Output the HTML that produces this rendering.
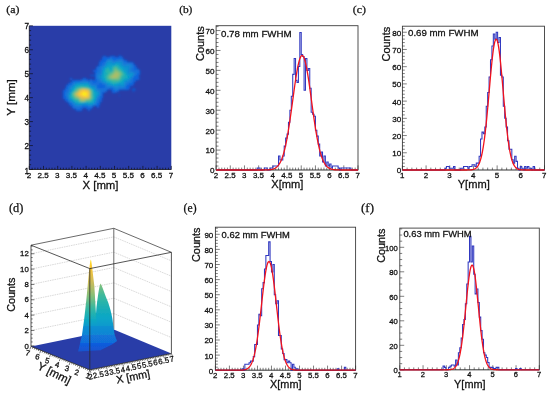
<!DOCTYPE html>
<html lang="en"><head><meta charset="utf-8"><title>Figure</title>
<style>html,body{margin:0;padding:0;background:#fff;}svg{display:block;}</style>
</head><body>
<svg width="550" height="394" viewBox="0 0 550 394" font-family='"Liberation Sans", sans-serif'>
<rect width="550" height="394" fill="#fff"/>
<defs>
<filter id="bl" x="-5%" y="-5%" width="110%" height="110%"><feGaussianBlur stdDeviation="0.8"/></filter>
<clipPath id="ca"><rect x="29.3" y="25.8" width="142" height="143.7"/></clipPath>
</defs>
<text x="6.2" y="13" font-size="10.9" font-family='"Liberation Serif", serif' fill="#111" stroke="#111" stroke-width="0.25" textLength="13.2" lengthAdjust="spacingAndGlyphs">(a)</text>
<text x="179.2" y="13" font-size="10.9" font-family='"Liberation Serif", serif' fill="#111" stroke="#111" stroke-width="0.25" textLength="13.2" lengthAdjust="spacingAndGlyphs">(b)</text>
<text x="352.8" y="13" font-size="10.9" font-family='"Liberation Serif", serif' fill="#111" stroke="#111" stroke-width="0.25" textLength="13.2" lengthAdjust="spacingAndGlyphs">(c)</text>
<text x="9" y="212.4" font-size="12.4" font-family='"Liberation Serif", serif' fill="#111" stroke="#111" stroke-width="0.25" textLength="14.4" lengthAdjust="spacingAndGlyphs">(d)</text>
<text x="183.6" y="212.4" font-size="12.4" font-family='"Liberation Serif", serif' fill="#111" stroke="#111" stroke-width="0.25" textLength="13" lengthAdjust="spacingAndGlyphs">(e)</text>
<text x="361" y="212.4" font-size="12.4" font-family='"Liberation Serif", serif' fill="#111" stroke="#111" stroke-width="0.25" textLength="13" lengthAdjust="spacingAndGlyphs">(f)</text>
<g>
<rect x="29.3" y="25.8" width="142" height="143.7" fill="#293da8"/>
<g filter="url(#bl)" clip-path="url(#ca)">
<path d="M63.38 97.65h1.42v1.44h-1.42zM63.38 96.21h1.42v1.44h-1.42zM63.38 94.78h1.42v1.44h-1.42zM63.38 93.34h1.42v1.44h-1.42zM63.38 91.9h1.42v1.44h-1.42zM63.38 90.47h1.42v1.44h-1.42zM64.8 87.59h1.42v1.44h-1.42zM66.22 100.52h1.42v1.44h-1.42zM66.22 84.72h1.42v1.44h-1.42zM67.64 83.28h1.42v1.44h-1.42zM69.06 103.4h1.42v1.44h-1.42zM69.06 83.28h1.42v1.44h-1.42zM70.48 104.84h1.42v1.44h-1.42zM70.48 81.84h1.42v1.44h-1.42zM70.48 78.97h1.42v1.44h-1.42zM70.48 77.53h1.42v1.44h-1.42zM71.9 106.27h1.42v1.44h-1.42zM71.9 80.41h1.42v1.44h-1.42zM73.32 107.71h1.42v1.44h-1.42zM73.32 80.41h1.42v1.44h-1.42zM76.16 109.15h1.42v1.44h-1.42zM79 109.15h1.42v1.44h-1.42zM80.42 109.15h1.42v1.44h-1.42zM81.84 107.71h1.42v1.44h-1.42zM83.26 77.53h1.42v1.44h-1.42zM84.68 78.97h1.42v1.44h-1.42zM84.68 77.53h1.42v1.44h-1.42zM86.1 107.71h1.42v1.44h-1.42zM87.52 109.15h1.42v1.44h-1.42zM88.94 109.15h1.42v1.44h-1.42zM90.36 107.71h1.42v1.44h-1.42zM90.36 78.97h1.42v1.44h-1.42zM90.36 74.66h1.42v1.44h-1.42zM91.78 106.27h1.42v1.44h-1.42zM91.78 74.66h1.42v1.44h-1.42zM93.2 80.41h1.42v1.44h-1.42zM93.2 74.66h1.42v1.44h-1.42zM94.62 80.41h1.42v1.44h-1.42zM94.62 78.97h1.42v1.44h-1.42zM94.62 77.53h1.42v1.44h-1.42zM94.62 76.1h1.42v1.44h-1.42zM94.62 74.66h1.42v1.44h-1.42zM94.62 73.22h1.42v1.44h-1.42zM94.62 71.78h1.42v1.44h-1.42zM94.62 70.35h1.42v1.44h-1.42zM96.04 68.91h1.42v1.44h-1.42zM96.04 67.47h1.42v1.44h-1.42zM97.46 66.04h1.42v1.44h-1.42zM98.88 103.4h1.42v1.44h-1.42zM98.88 101.96h1.42v1.44h-1.42zM98.88 86.15h1.42v1.44h-1.42zM98.88 84.72h1.42v1.44h-1.42zM98.88 64.6h1.42v1.44h-1.42zM98.88 63.16h1.42v1.44h-1.42zM98.88 61.73h1.42v1.44h-1.42zM100.3 100.52h1.42v1.44h-1.42zM100.3 99.09h1.42v1.44h-1.42zM100.3 97.65h1.42v1.44h-1.42zM100.3 86.15h1.42v1.44h-1.42zM100.3 84.72h1.42v1.44h-1.42zM100.3 61.73h1.42v1.44h-1.42zM101.72 96.21h1.42v1.44h-1.42zM101.72 94.78h1.42v1.44h-1.42zM101.72 93.34h1.42v1.44h-1.42zM101.72 91.9h1.42v1.44h-1.42zM101.72 86.15h1.42v1.44h-1.42zM101.72 84.72h1.42v1.44h-1.42zM101.72 60.29h1.42v1.44h-1.42zM101.72 57.41h1.42v1.44h-1.42zM103.14 91.9h1.42v1.44h-1.42zM103.14 60.29h1.42v1.44h-1.42zM103.14 58.85h1.42v1.44h-1.42zM103.14 57.41h1.42v1.44h-1.42zM103.14 55.98h1.42v1.44h-1.42zM104.56 58.85h1.42v1.44h-1.42zM104.56 57.41h1.42v1.44h-1.42zM104.56 55.98h1.42v1.44h-1.42zM105.98 57.41h1.42v1.44h-1.42zM107.4 89.03h1.42v1.44h-1.42zM107.4 57.41h1.42v1.44h-1.42zM110.24 55.98h1.42v1.44h-1.42zM111.66 91.9h1.42v1.44h-1.42zM111.66 90.47h1.42v1.44h-1.42zM111.66 89.03h1.42v1.44h-1.42zM111.66 55.98h1.42v1.44h-1.42zM113.08 91.9h1.42v1.44h-1.42zM113.08 57.41h1.42v1.44h-1.42zM113.08 55.98h1.42v1.44h-1.42zM114.5 91.9h1.42v1.44h-1.42zM114.5 57.41h1.42v1.44h-1.42zM115.92 57.41h1.42v1.44h-1.42zM117.34 57.41h1.42v1.44h-1.42zM118.76 55.98h1.42v1.44h-1.42zM120.18 55.98h1.42v1.44h-1.42zM121.6 57.41h1.42v1.44h-1.42zM123.02 58.85h1.42v1.44h-1.42zM125.86 60.29h1.42v1.44h-1.42zM127.28 89.03h1.42v1.44h-1.42zM127.28 86.15h1.42v1.44h-1.42zM127.28 84.72h1.42v1.44h-1.42zM128.7 87.59h1.42v1.44h-1.42zM128.7 84.72h1.42v1.44h-1.42zM130.12 84.72h1.42v1.44h-1.42zM130.12 61.73h1.42v1.44h-1.42zM131.54 83.28h1.42v1.44h-1.42zM131.54 61.73h1.42v1.44h-1.42zM132.96 90.47h1.42v1.44h-1.42zM132.96 89.03h1.42v1.44h-1.42zM132.96 87.59h1.42v1.44h-1.42zM132.96 83.28h1.42v1.44h-1.42zM132.96 81.84h1.42v1.44h-1.42zM134.38 89.03h1.42v1.44h-1.42zM134.38 80.41h1.42v1.44h-1.42zM134.38 78.97h1.42v1.44h-1.42zM134.38 77.53h1.42v1.44h-1.42zM134.38 66.04h1.42v1.44h-1.42zM134.38 64.6h1.42v1.44h-1.42zM135.8 78.97h1.42v1.44h-1.42zM135.8 76.1h1.42v1.44h-1.42zM135.8 67.47h1.42v1.44h-1.42zM137.22 78.97h1.42v1.44h-1.42zM137.22 76.1h1.42v1.44h-1.42zM137.22 74.66h1.42v1.44h-1.42zM138.64 77.53h1.42v1.44h-1.42zM138.64 73.22h1.42v1.44h-1.42zM138.64 70.35h1.42v1.44h-1.42z" fill="#1062dc" shape-rendering="crispEdges"/>
<path d="M64.8 99.09h1.42v1.44h-1.42zM86.1 78.97h1.42v1.44h-1.42zM93.2 70.35h1.42v1.44h-1.42zM97.46 106.27h1.42v1.44h-1.42zM100.3 60.29h1.42v1.44h-1.42zM101.72 58.85h1.42v1.44h-1.42zM110.24 89.03h1.42v1.44h-1.42zM118.76 94.78h1.42v1.44h-1.42zM118.76 54.54h1.42v1.44h-1.42zM128.7 86.15h1.42v1.44h-1.42zM131.54 89.03h1.42v1.44h-1.42zM131.54 84.72h1.42v1.44h-1.42z" fill="#0f5cdd" shape-rendering="crispEdges"/>
<path d="M64.8 97.65h1.42v1.44h-1.42zM64.8 96.21h1.42v1.44h-1.42zM64.8 90.47h1.42v1.44h-1.42zM64.8 89.03h1.42v1.44h-1.42zM66.22 99.09h1.42v1.44h-1.42zM66.22 87.59h1.42v1.44h-1.42zM66.22 86.15h1.42v1.44h-1.42zM67.64 101.96h1.42v1.44h-1.42zM67.64 84.72h1.42v1.44h-1.42zM70.48 103.4h1.42v1.44h-1.42zM70.48 83.28h1.42v1.44h-1.42zM71.9 104.84h1.42v1.44h-1.42zM71.9 81.84h1.42v1.44h-1.42zM74.74 107.71h1.42v1.44h-1.42zM74.74 80.41h1.42v1.44h-1.42zM76.16 80.41h1.42v1.44h-1.42zM77.58 109.15h1.42v1.44h-1.42zM77.58 80.41h1.42v1.44h-1.42zM79 80.41h1.42v1.44h-1.42zM80.42 107.71h1.42v1.44h-1.42zM81.84 106.27h1.42v1.44h-1.42zM81.84 78.97h1.42v1.44h-1.42zM83.26 106.27h1.42v1.44h-1.42zM83.26 78.97h1.42v1.44h-1.42zM84.68 106.27h1.42v1.44h-1.42zM86.1 106.27h1.42v1.44h-1.42zM87.52 107.71h1.42v1.44h-1.42zM87.52 80.41h1.42v1.44h-1.42zM88.94 107.71h1.42v1.44h-1.42zM88.94 80.41h1.42v1.44h-1.42zM91.78 80.41h1.42v1.44h-1.42zM93.2 81.84h1.42v1.44h-1.42zM94.62 104.84h1.42v1.44h-1.42zM94.62 81.84h1.42v1.44h-1.42zM96.04 104.84h1.42v1.44h-1.42zM96.04 80.41h1.42v1.44h-1.42zM96.04 78.97h1.42v1.44h-1.42zM96.04 71.78h1.42v1.44h-1.42zM96.04 70.35h1.42v1.44h-1.42zM97.46 104.84h1.42v1.44h-1.42zM97.46 103.4h1.42v1.44h-1.42zM97.46 86.15h1.42v1.44h-1.42zM97.46 84.72h1.42v1.44h-1.42zM98.88 100.52h1.42v1.44h-1.42zM98.88 99.09h1.42v1.44h-1.42zM98.88 83.28h1.42v1.44h-1.42zM98.88 66.04h1.42v1.44h-1.42zM100.3 96.21h1.42v1.44h-1.42zM100.3 83.28h1.42v1.44h-1.42zM100.3 64.6h1.42v1.44h-1.42zM100.3 63.16h1.42v1.44h-1.42zM101.72 61.73h1.42v1.44h-1.42zM103.14 86.15h1.42v1.44h-1.42zM103.14 84.72h1.42v1.44h-1.42zM104.56 60.29h1.42v1.44h-1.42zM105.98 90.47h1.42v1.44h-1.42zM105.98 58.85h1.42v1.44h-1.42zM108.82 87.59h1.42v1.44h-1.42zM108.82 57.41h1.42v1.44h-1.42zM110.24 87.59h1.42v1.44h-1.42zM111.66 87.59h1.42v1.44h-1.42zM111.66 57.41h1.42v1.44h-1.42zM113.08 90.47h1.42v1.44h-1.42zM113.08 58.85h1.42v1.44h-1.42zM114.5 58.85h1.42v1.44h-1.42zM117.34 90.47h1.42v1.44h-1.42zM118.76 89.03h1.42v1.44h-1.42zM118.76 57.41h1.42v1.44h-1.42zM120.18 89.03h1.42v1.44h-1.42zM120.18 57.41h1.42v1.44h-1.42zM121.6 89.03h1.42v1.44h-1.42zM123.02 89.03h1.42v1.44h-1.42zM124.44 89.03h1.42v1.44h-1.42zM124.44 60.29h1.42v1.44h-1.42zM125.86 89.03h1.42v1.44h-1.42zM125.86 87.59h1.42v1.44h-1.42zM125.86 86.15h1.42v1.44h-1.42zM127.28 87.59h1.42v1.44h-1.42zM127.28 61.73h1.42v1.44h-1.42zM128.7 83.28h1.42v1.44h-1.42zM128.7 61.73h1.42v1.44h-1.42zM130.12 83.28h1.42v1.44h-1.42zM131.54 81.84h1.42v1.44h-1.42zM132.96 80.41h1.42v1.44h-1.42zM132.96 78.97h1.42v1.44h-1.42zM132.96 77.53h1.42v1.44h-1.42zM132.96 68.91h1.42v1.44h-1.42zM132.96 63.16h1.42v1.44h-1.42zM134.38 76.1h1.42v1.44h-1.42zM134.38 68.91h1.42v1.44h-1.42zM134.38 67.47h1.42v1.44h-1.42zM135.8 77.53h1.42v1.44h-1.42zM135.8 74.66h1.42v1.44h-1.42zM137.22 77.53h1.42v1.44h-1.42zM137.22 73.22h1.42v1.44h-1.42zM137.22 68.91h1.42v1.44h-1.42zM138.64 71.78h1.42v1.44h-1.42z" fill="#1168db" shape-rendering="crispEdges"/>
<path d="M64.8 94.78h1.42v1.44h-1.42zM64.8 93.34h1.42v1.44h-1.42zM64.8 91.9h1.42v1.44h-1.42zM66.22 97.65h1.42v1.44h-1.42zM66.22 90.47h1.42v1.44h-1.42zM66.22 89.03h1.42v1.44h-1.42zM67.64 100.52h1.42v1.44h-1.42zM67.64 86.15h1.42v1.44h-1.42zM69.06 101.96h1.42v1.44h-1.42zM69.06 84.72h1.42v1.44h-1.42zM70.48 84.72h1.42v1.44h-1.42zM71.9 103.4h1.42v1.44h-1.42zM73.32 106.27h1.42v1.44h-1.42zM76.16 107.71h1.42v1.44h-1.42zM77.58 107.71h1.42v1.44h-1.42zM79 107.71h1.42v1.44h-1.42zM80.42 106.27h1.42v1.44h-1.42zM80.42 80.41h1.42v1.44h-1.42zM86.1 80.41h1.42v1.44h-1.42zM87.52 106.27h1.42v1.44h-1.42zM88.94 106.27h1.42v1.44h-1.42zM90.36 106.27h1.42v1.44h-1.42zM90.36 80.41h1.42v1.44h-1.42zM91.78 83.28h1.42v1.44h-1.42zM91.78 81.84h1.42v1.44h-1.42zM93.2 104.84h1.42v1.44h-1.42zM93.2 83.28h1.42v1.44h-1.42zM94.62 83.28h1.42v1.44h-1.42zM96.04 103.4h1.42v1.44h-1.42zM96.04 83.28h1.42v1.44h-1.42zM96.04 81.84h1.42v1.44h-1.42zM96.04 77.53h1.42v1.44h-1.42zM96.04 73.22h1.42v1.44h-1.42zM97.46 101.96h1.42v1.44h-1.42zM97.46 87.59h1.42v1.44h-1.42zM97.46 83.28h1.42v1.44h-1.42zM97.46 81.84h1.42v1.44h-1.42zM97.46 78.97h1.42v1.44h-1.42zM97.46 70.35h1.42v1.44h-1.42zM97.46 68.91h1.42v1.44h-1.42zM97.46 67.47h1.42v1.44h-1.42zM98.88 97.65h1.42v1.44h-1.42zM98.88 87.59h1.42v1.44h-1.42zM98.88 81.84h1.42v1.44h-1.42zM100.3 94.78h1.42v1.44h-1.42zM100.3 93.34h1.42v1.44h-1.42zM100.3 91.9h1.42v1.44h-1.42zM100.3 87.59h1.42v1.44h-1.42zM101.72 90.47h1.42v1.44h-1.42zM101.72 87.59h1.42v1.44h-1.42zM101.72 83.28h1.42v1.44h-1.42zM101.72 64.6h1.42v1.44h-1.42zM101.72 63.16h1.42v1.44h-1.42zM103.14 90.47h1.42v1.44h-1.42zM103.14 87.59h1.42v1.44h-1.42zM103.14 63.16h1.42v1.44h-1.42zM103.14 61.73h1.42v1.44h-1.42zM104.56 90.47h1.42v1.44h-1.42zM104.56 86.15h1.42v1.44h-1.42zM104.56 84.72h1.42v1.44h-1.42zM105.98 89.03h1.42v1.44h-1.42zM107.4 87.59h1.42v1.44h-1.42zM110.24 57.41h1.42v1.44h-1.42zM113.08 89.03h1.42v1.44h-1.42zM114.5 90.47h1.42v1.44h-1.42zM115.92 90.47h1.42v1.44h-1.42zM115.92 58.85h1.42v1.44h-1.42zM117.34 58.85h1.42v1.44h-1.42zM121.6 58.85h1.42v1.44h-1.42zM123.02 87.59h1.42v1.44h-1.42zM123.02 60.29h1.42v1.44h-1.42zM124.44 87.59h1.42v1.44h-1.42zM124.44 61.73h1.42v1.44h-1.42zM125.86 84.72h1.42v1.44h-1.42zM125.86 61.73h1.42v1.44h-1.42zM127.28 83.28h1.42v1.44h-1.42zM130.12 81.84h1.42v1.44h-1.42zM131.54 80.41h1.42v1.44h-1.42zM131.54 78.97h1.42v1.44h-1.42zM131.54 77.53h1.42v1.44h-1.42zM131.54 68.91h1.42v1.44h-1.42zM131.54 63.16h1.42v1.44h-1.42zM132.96 76.1h1.42v1.44h-1.42zM132.96 70.35h1.42v1.44h-1.42zM132.96 67.47h1.42v1.44h-1.42zM132.96 66.04h1.42v1.44h-1.42zM132.96 64.6h1.42v1.44h-1.42zM134.38 74.66h1.42v1.44h-1.42zM134.38 70.35h1.42v1.44h-1.42zM135.8 73.22h1.42v1.44h-1.42zM135.8 68.91h1.42v1.44h-1.42zM137.22 71.78h1.42v1.44h-1.42zM137.22 70.35h1.42v1.44h-1.42z" fill="#126eda" shape-rendering="crispEdges"/>
<path d="M66.22 96.21h1.42v1.44h-1.42zM66.22 91.9h1.42v1.44h-1.42zM67.64 99.09h1.42v1.44h-1.42zM67.64 90.47h1.42v1.44h-1.42zM67.64 89.03h1.42v1.44h-1.42zM67.64 87.59h1.42v1.44h-1.42zM69.06 86.15h1.42v1.44h-1.42zM70.48 101.96h1.42v1.44h-1.42zM71.9 83.28h1.42v1.44h-1.42zM73.32 104.84h1.42v1.44h-1.42zM73.32 81.84h1.42v1.44h-1.42zM74.74 106.27h1.42v1.44h-1.42zM76.16 106.27h1.42v1.44h-1.42zM77.58 106.27h1.42v1.44h-1.42zM79 106.27h1.42v1.44h-1.42zM81.84 104.84h1.42v1.44h-1.42zM81.84 80.41h1.42v1.44h-1.42zM83.26 104.84h1.42v1.44h-1.42zM83.26 80.41h1.42v1.44h-1.42zM84.68 104.84h1.42v1.44h-1.42zM84.68 80.41h1.42v1.44h-1.42zM88.94 81.84h1.42v1.44h-1.42zM90.36 81.84h1.42v1.44h-1.42zM96.04 84.72h1.42v1.44h-1.42zM96.04 76.1h1.42v1.44h-1.42zM96.04 74.66h1.42v1.44h-1.42zM97.46 100.52h1.42v1.44h-1.42zM97.46 99.09h1.42v1.44h-1.42zM97.46 80.41h1.42v1.44h-1.42zM97.46 71.78h1.42v1.44h-1.42zM98.88 96.21h1.42v1.44h-1.42zM98.88 89.03h1.42v1.44h-1.42zM98.88 80.41h1.42v1.44h-1.42zM98.88 71.78h1.42v1.44h-1.42zM98.88 70.35h1.42v1.44h-1.42zM98.88 68.91h1.42v1.44h-1.42zM98.88 67.47h1.42v1.44h-1.42zM100.3 90.47h1.42v1.44h-1.42zM100.3 89.03h1.42v1.44h-1.42zM100.3 81.84h1.42v1.44h-1.42zM100.3 66.04h1.42v1.44h-1.42zM101.72 89.03h1.42v1.44h-1.42zM103.14 89.03h1.42v1.44h-1.42zM103.14 83.28h1.42v1.44h-1.42zM104.56 89.03h1.42v1.44h-1.42zM104.56 87.59h1.42v1.44h-1.42zM104.56 61.73h1.42v1.44h-1.42zM105.98 87.59h1.42v1.44h-1.42zM105.98 86.15h1.42v1.44h-1.42zM105.98 60.29h1.42v1.44h-1.42zM107.4 58.85h1.42v1.44h-1.42zM110.24 86.15h1.42v1.44h-1.42zM111.66 86.15h1.42v1.44h-1.42zM111.66 58.85h1.42v1.44h-1.42zM113.08 87.59h1.42v1.44h-1.42zM113.08 60.29h1.42v1.44h-1.42zM114.5 60.29h1.42v1.44h-1.42zM117.34 89.03h1.42v1.44h-1.42zM118.76 87.59h1.42v1.44h-1.42zM118.76 58.85h1.42v1.44h-1.42zM120.18 87.59h1.42v1.44h-1.42zM120.18 58.85h1.42v1.44h-1.42zM121.6 87.59h1.42v1.44h-1.42zM123.02 61.73h1.42v1.44h-1.42zM124.44 86.15h1.42v1.44h-1.42zM125.86 83.28h1.42v1.44h-1.42zM128.7 81.84h1.42v1.44h-1.42zM130.12 80.41h1.42v1.44h-1.42zM130.12 78.97h1.42v1.44h-1.42zM130.12 68.91h1.42v1.44h-1.42zM130.12 63.16h1.42v1.44h-1.42zM131.54 70.35h1.42v1.44h-1.42zM131.54 67.47h1.42v1.44h-1.42zM134.38 71.78h1.42v1.44h-1.42zM135.8 71.78h1.42v1.44h-1.42zM135.8 70.35h1.42v1.44h-1.42z" fill="#1275d8" shape-rendering="crispEdges"/>
<path d="M66.22 94.78h1.42v1.44h-1.42zM66.22 93.34h1.42v1.44h-1.42zM67.64 91.9h1.42v1.44h-1.42zM69.06 100.52h1.42v1.44h-1.42zM69.06 89.03h1.42v1.44h-1.42zM69.06 87.59h1.42v1.44h-1.42zM71.9 84.72h1.42v1.44h-1.42zM74.74 81.84h1.42v1.44h-1.42zM76.16 81.84h1.42v1.44h-1.42zM80.42 104.84h1.42v1.44h-1.42zM86.1 104.84h1.42v1.44h-1.42zM90.36 83.28h1.42v1.44h-1.42zM91.78 104.84h1.42v1.44h-1.42zM91.78 84.72h1.42v1.44h-1.42zM94.62 103.4h1.42v1.44h-1.42zM96.04 101.96h1.42v1.44h-1.42zM96.04 100.52h1.42v1.44h-1.42zM96.04 87.59h1.42v1.44h-1.42zM96.04 86.15h1.42v1.44h-1.42zM97.46 97.65h1.42v1.44h-1.42zM97.46 89.03h1.42v1.44h-1.42zM97.46 77.53h1.42v1.44h-1.42zM97.46 74.66h1.42v1.44h-1.42zM97.46 73.22h1.42v1.44h-1.42zM98.88 94.78h1.42v1.44h-1.42zM98.88 90.47h1.42v1.44h-1.42zM98.88 78.97h1.42v1.44h-1.42zM98.88 73.22h1.42v1.44h-1.42zM100.3 71.78h1.42v1.44h-1.42zM100.3 70.35h1.42v1.44h-1.42zM100.3 68.91h1.42v1.44h-1.42zM100.3 67.47h1.42v1.44h-1.42zM101.72 66.04h1.42v1.44h-1.42zM103.14 64.6h1.42v1.44h-1.42zM104.56 83.28h1.42v1.44h-1.42zM105.98 84.72h1.42v1.44h-1.42zM107.4 86.15h1.42v1.44h-1.42zM108.82 86.15h1.42v1.44h-1.42zM108.82 58.85h1.42v1.44h-1.42zM110.24 58.85h1.42v1.44h-1.42zM114.5 89.03h1.42v1.44h-1.42zM115.92 89.03h1.42v1.44h-1.42zM115.92 60.29h1.42v1.44h-1.42zM117.34 87.59h1.42v1.44h-1.42zM117.34 60.29h1.42v1.44h-1.42zM118.76 86.15h1.42v1.44h-1.42zM121.6 60.29h1.42v1.44h-1.42zM123.02 63.16h1.42v1.44h-1.42zM124.44 63.16h1.42v1.44h-1.42zM125.86 63.16h1.42v1.44h-1.42zM127.28 81.84h1.42v1.44h-1.42zM127.28 63.16h1.42v1.44h-1.42zM128.7 63.16h1.42v1.44h-1.42zM130.12 77.53h1.42v1.44h-1.42zM130.12 70.35h1.42v1.44h-1.42zM130.12 67.47h1.42v1.44h-1.42zM131.54 66.04h1.42v1.44h-1.42zM131.54 64.6h1.42v1.44h-1.42zM134.38 73.22h1.42v1.44h-1.42z" fill="#137bd7" shape-rendering="crispEdges"/>
<path d="M67.64 97.65h1.42v1.44h-1.42zM67.64 93.34h1.42v1.44h-1.42zM69.06 90.47h1.42v1.44h-1.42zM70.48 100.52h1.42v1.44h-1.42zM70.48 86.15h1.42v1.44h-1.42zM71.9 101.96h1.42v1.44h-1.42zM73.32 103.4h1.42v1.44h-1.42zM73.32 83.28h1.42v1.44h-1.42zM74.74 104.84h1.42v1.44h-1.42zM76.16 104.84h1.42v1.44h-1.42zM77.58 81.84h1.42v1.44h-1.42zM79 104.84h1.42v1.44h-1.42zM79 81.84h1.42v1.44h-1.42zM80.42 81.84h1.42v1.44h-1.42zM87.52 104.84h1.42v1.44h-1.42zM87.52 81.84h1.42v1.44h-1.42zM88.94 104.84h1.42v1.44h-1.42zM90.36 104.84h1.42v1.44h-1.42zM93.2 84.72h1.42v1.44h-1.42zM94.62 84.72h1.42v1.44h-1.42zM96.04 99.09h1.42v1.44h-1.42zM96.04 89.03h1.42v1.44h-1.42zM97.46 96.21h1.42v1.44h-1.42zM97.46 76.1h1.42v1.44h-1.42zM98.88 91.9h1.42v1.44h-1.42zM98.88 77.53h1.42v1.44h-1.42zM98.88 74.66h1.42v1.44h-1.42zM100.3 80.41h1.42v1.44h-1.42zM100.3 73.22h1.42v1.44h-1.42zM101.72 81.84h1.42v1.44h-1.42zM104.56 63.16h1.42v1.44h-1.42zM111.66 60.29h1.42v1.44h-1.42zM113.08 86.15h1.42v1.44h-1.42zM113.08 61.73h1.42v1.44h-1.42zM114.5 87.59h1.42v1.44h-1.42zM118.76 60.29h1.42v1.44h-1.42zM120.18 86.15h1.42v1.44h-1.42zM120.18 60.29h1.42v1.44h-1.42zM121.6 86.15h1.42v1.44h-1.42zM123.02 86.15h1.42v1.44h-1.42zM123.02 64.6h1.42v1.44h-1.42zM124.44 84.72h1.42v1.44h-1.42zM124.44 64.6h1.42v1.44h-1.42zM125.86 81.84h1.42v1.44h-1.42zM128.7 80.41h1.42v1.44h-1.42zM128.7 70.35h1.42v1.44h-1.42zM128.7 68.91h1.42v1.44h-1.42zM128.7 67.47h1.42v1.44h-1.42zM130.12 66.04h1.42v1.44h-1.42zM130.12 64.6h1.42v1.44h-1.42zM131.54 76.1h1.42v1.44h-1.42zM132.96 74.66h1.42v1.44h-1.42zM132.96 71.78h1.42v1.44h-1.42z" fill="#1481d6" shape-rendering="crispEdges"/>
<path d="M67.64 96.21h1.42v1.44h-1.42zM67.64 94.78h1.42v1.44h-1.42zM69.06 99.09h1.42v1.44h-1.42zM69.06 91.9h1.42v1.44h-1.42zM70.48 87.59h1.42v1.44h-1.42zM77.58 104.84h1.42v1.44h-1.42zM81.84 81.84h1.42v1.44h-1.42zM83.26 81.84h1.42v1.44h-1.42zM84.68 81.84h1.42v1.44h-1.42zM86.1 81.84h1.42v1.44h-1.42zM88.94 83.28h1.42v1.44h-1.42zM90.36 84.72h1.42v1.44h-1.42zM93.2 103.4h1.42v1.44h-1.42zM94.62 101.96h1.42v1.44h-1.42zM94.62 100.52h1.42v1.44h-1.42zM94.62 87.59h1.42v1.44h-1.42zM94.62 86.15h1.42v1.44h-1.42zM96.04 97.65h1.42v1.44h-1.42zM97.46 90.47h1.42v1.44h-1.42zM98.88 93.34h1.42v1.44h-1.42zM98.88 76.1h1.42v1.44h-1.42zM100.3 78.97h1.42v1.44h-1.42zM101.72 68.91h1.42v1.44h-1.42zM101.72 67.47h1.42v1.44h-1.42zM103.14 81.84h1.42v1.44h-1.42zM103.14 66.04h1.42v1.44h-1.42zM104.56 64.6h1.42v1.44h-1.42zM105.98 83.28h1.42v1.44h-1.42zM105.98 61.73h1.42v1.44h-1.42zM107.4 84.72h1.42v1.44h-1.42zM107.4 60.29h1.42v1.44h-1.42zM108.82 84.72h1.42v1.44h-1.42zM110.24 84.72h1.42v1.44h-1.42zM110.24 60.29h1.42v1.44h-1.42zM111.66 61.73h1.42v1.44h-1.42zM114.5 86.15h1.42v1.44h-1.42zM115.92 87.59h1.42v1.44h-1.42zM117.34 86.15h1.42v1.44h-1.42zM118.76 84.72h1.42v1.44h-1.42zM121.6 63.16h1.42v1.44h-1.42zM121.6 61.73h1.42v1.44h-1.42zM124.44 83.28h1.42v1.44h-1.42zM124.44 81.84h1.42v1.44h-1.42zM125.86 64.6h1.42v1.44h-1.42zM127.28 80.41h1.42v1.44h-1.42zM127.28 64.6h1.42v1.44h-1.42zM128.7 78.97h1.42v1.44h-1.42zM128.7 71.78h1.42v1.44h-1.42zM128.7 66.04h1.42v1.44h-1.42zM128.7 64.6h1.42v1.44h-1.42zM130.12 71.78h1.42v1.44h-1.42zM131.54 71.78h1.42v1.44h-1.42zM132.96 73.22h1.42v1.44h-1.42z" fill="#1287d4" shape-rendering="crispEdges"/>
<path d="M69.06 97.65h1.42v1.44h-1.42zM69.06 93.34h1.42v1.44h-1.42zM70.48 90.47h1.42v1.44h-1.42zM76.16 103.4h1.42v1.44h-1.42zM76.16 83.28h1.42v1.44h-1.42zM81.84 103.4h1.42v1.44h-1.42zM86.1 103.4h1.42v1.44h-1.42zM87.52 83.28h1.42v1.44h-1.42zM88.94 84.72h1.42v1.44h-1.42zM91.78 103.4h1.42v1.44h-1.42zM94.62 99.09h1.42v1.44h-1.42zM96.04 96.21h1.42v1.44h-1.42zM100.3 76.1h1.42v1.44h-1.42zM101.72 78.97h1.42v1.44h-1.42zM101.72 71.78h1.42v1.44h-1.42zM103.14 67.47h1.42v1.44h-1.42zM104.56 66.04h1.42v1.44h-1.42zM105.98 81.84h1.42v1.44h-1.42zM105.98 64.6h1.42v1.44h-1.42zM107.4 83.28h1.42v1.44h-1.42zM107.4 61.73h1.42v1.44h-1.42zM108.82 61.73h1.42v1.44h-1.42zM110.24 61.73h1.42v1.44h-1.42zM111.66 63.16h1.42v1.44h-1.42zM113.08 84.72h1.42v1.44h-1.42zM113.08 63.16h1.42v1.44h-1.42zM115.92 84.72h1.42v1.44h-1.42zM115.92 61.73h1.42v1.44h-1.42zM120.18 64.6h1.42v1.44h-1.42zM120.18 63.16h1.42v1.44h-1.42zM121.6 84.72h1.42v1.44h-1.42zM123.02 84.72h1.42v1.44h-1.42zM123.02 66.04h1.42v1.44h-1.42zM124.44 80.41h1.42v1.44h-1.42zM124.44 67.47h1.42v1.44h-1.42zM125.86 67.47h1.42v1.44h-1.42zM127.28 78.97h1.42v1.44h-1.42zM127.28 73.22h1.42v1.44h-1.42zM128.7 73.22h1.42v1.44h-1.42zM131.54 74.66h1.42v1.44h-1.42z" fill="#0d92d0" shape-rendering="crispEdges"/>
<path d="M69.06 96.21h1.42v1.44h-1.42zM69.06 94.78h1.42v1.44h-1.42zM71.9 87.59h1.42v1.44h-1.42zM73.32 86.15h1.42v1.44h-1.42zM74.74 84.72h1.42v1.44h-1.42zM77.58 103.4h1.42v1.44h-1.42zM77.58 83.28h1.42v1.44h-1.42zM79 103.4h1.42v1.44h-1.42zM79 83.28h1.42v1.44h-1.42zM80.42 103.4h1.42v1.44h-1.42zM80.42 83.28h1.42v1.44h-1.42zM81.84 83.28h1.42v1.44h-1.42zM83.26 83.28h1.42v1.44h-1.42zM84.68 83.28h1.42v1.44h-1.42zM87.52 103.4h1.42v1.44h-1.42zM88.94 103.4h1.42v1.44h-1.42zM90.36 103.4h1.42v1.44h-1.42zM90.36 86.15h1.42v1.44h-1.42zM93.2 101.96h1.42v1.44h-1.42zM93.2 87.59h1.42v1.44h-1.42zM94.62 90.47h1.42v1.44h-1.42zM96.04 94.78h1.42v1.44h-1.42zM97.46 93.34h1.42v1.44h-1.42zM97.46 91.9h1.42v1.44h-1.42zM101.72 77.53h1.42v1.44h-1.42zM101.72 73.22h1.42v1.44h-1.42zM103.14 80.41h1.42v1.44h-1.42zM103.14 68.91h1.42v1.44h-1.42zM107.4 64.6h1.42v1.44h-1.42zM107.4 63.16h1.42v1.44h-1.42zM108.82 83.28h1.42v1.44h-1.42zM108.82 63.16h1.42v1.44h-1.42zM110.24 63.16h1.42v1.44h-1.42zM114.5 84.72h1.42v1.44h-1.42zM118.76 83.28h1.42v1.44h-1.42zM118.76 63.16h1.42v1.44h-1.42zM120.18 83.28h1.42v1.44h-1.42zM121.6 66.04h1.42v1.44h-1.42zM123.02 83.28h1.42v1.44h-1.42zM123.02 81.84h1.42v1.44h-1.42zM123.02 67.47h1.42v1.44h-1.42zM124.44 68.91h1.42v1.44h-1.42zM125.86 78.97h1.42v1.44h-1.42zM125.86 70.35h1.42v1.44h-1.42zM125.86 68.91h1.42v1.44h-1.42zM128.7 76.1h1.42v1.44h-1.42zM130.12 74.66h1.42v1.44h-1.42zM130.12 73.22h1.42v1.44h-1.42zM131.54 73.22h1.42v1.44h-1.42z" fill="#0b98ce" shape-rendering="crispEdges"/>
<path d="M70.48 99.09h1.42v1.44h-1.42zM70.48 89.03h1.42v1.44h-1.42zM71.9 100.52h1.42v1.44h-1.42zM71.9 86.15h1.42v1.44h-1.42zM73.32 101.96h1.42v1.44h-1.42zM73.32 84.72h1.42v1.44h-1.42zM74.74 103.4h1.42v1.44h-1.42zM74.74 83.28h1.42v1.44h-1.42zM83.26 103.4h1.42v1.44h-1.42zM84.68 103.4h1.42v1.44h-1.42zM91.78 86.15h1.42v1.44h-1.42zM93.2 86.15h1.42v1.44h-1.42zM94.62 89.03h1.42v1.44h-1.42zM96.04 90.47h1.42v1.44h-1.42zM97.46 94.78h1.42v1.44h-1.42zM100.3 77.53h1.42v1.44h-1.42zM100.3 74.66h1.42v1.44h-1.42zM101.72 80.41h1.42v1.44h-1.42zM101.72 70.35h1.42v1.44h-1.42zM104.56 81.84h1.42v1.44h-1.42zM105.98 63.16h1.42v1.44h-1.42zM108.82 60.29h1.42v1.44h-1.42zM111.66 84.72h1.42v1.44h-1.42zM114.5 61.73h1.42v1.44h-1.42zM115.92 86.15h1.42v1.44h-1.42zM117.34 84.72h1.42v1.44h-1.42zM117.34 61.73h1.42v1.44h-1.42zM118.76 61.73h1.42v1.44h-1.42zM120.18 84.72h1.42v1.44h-1.42zM120.18 61.73h1.42v1.44h-1.42zM121.6 64.6h1.42v1.44h-1.42zM124.44 66.04h1.42v1.44h-1.42zM125.86 80.41h1.42v1.44h-1.42zM125.86 66.04h1.42v1.44h-1.42zM127.28 71.78h1.42v1.44h-1.42zM127.28 70.35h1.42v1.44h-1.42zM127.28 68.91h1.42v1.44h-1.42zM127.28 67.47h1.42v1.44h-1.42zM127.28 66.04h1.42v1.44h-1.42zM128.7 77.53h1.42v1.44h-1.42zM130.12 76.1h1.42v1.44h-1.42z" fill="#0f8dd2" shape-rendering="crispEdges"/>
<path d="M70.48 97.65h1.42v1.44h-1.42zM73.32 87.59h1.42v1.44h-1.42zM76.16 101.96h1.42v1.44h-1.42zM76.16 84.72h1.42v1.44h-1.42zM77.58 84.72h1.42v1.44h-1.42zM83.26 84.72h1.42v1.44h-1.42zM84.68 84.72h1.42v1.44h-1.42zM87.52 84.72h1.42v1.44h-1.42zM88.94 86.15h1.42v1.44h-1.42zM91.78 101.96h1.42v1.44h-1.42zM93.2 99.09h1.42v1.44h-1.42zM93.2 90.47h1.42v1.44h-1.42zM94.62 96.21h1.42v1.44h-1.42zM94.62 94.78h1.42v1.44h-1.42zM94.62 93.34h1.42v1.44h-1.42zM103.14 77.53h1.42v1.44h-1.42zM103.14 70.35h1.42v1.44h-1.42zM104.56 80.41h1.42v1.44h-1.42zM104.56 67.47h1.42v1.44h-1.42zM108.82 66.04h1.42v1.44h-1.42zM113.08 64.6h1.42v1.44h-1.42zM115.92 83.28h1.42v1.44h-1.42zM115.92 63.16h1.42v1.44h-1.42zM118.76 64.6h1.42v1.44h-1.42zM120.18 81.84h1.42v1.44h-1.42zM121.6 81.84h1.42v1.44h-1.42zM121.6 67.47h1.42v1.44h-1.42zM123.02 80.41h1.42v1.44h-1.42zM123.02 70.35h1.42v1.44h-1.42zM124.44 78.97h1.42v1.44h-1.42zM125.86 73.22h1.42v1.44h-1.42zM127.28 76.1h1.42v1.44h-1.42z" fill="#06a4ca" shape-rendering="crispEdges"/>
<path d="M70.48 96.21h1.42v1.44h-1.42zM70.48 94.78h1.42v1.44h-1.42zM71.9 97.65h1.42v1.44h-1.42zM73.32 99.09h1.42v1.44h-1.42zM74.74 100.52h1.42v1.44h-1.42zM81.84 84.72h1.42v1.44h-1.42zM83.26 101.96h1.42v1.44h-1.42zM87.52 101.96h1.42v1.44h-1.42zM88.94 101.96h1.42v1.44h-1.42zM90.36 87.59h1.42v1.44h-1.42zM91.78 100.52h1.42v1.44h-1.42zM91.78 89.03h1.42v1.44h-1.42zM93.2 97.65h1.42v1.44h-1.42zM93.2 94.78h1.42v1.44h-1.42zM93.2 93.34h1.42v1.44h-1.42zM93.2 91.9h1.42v1.44h-1.42zM103.14 74.66h1.42v1.44h-1.42zM104.56 78.97h1.42v1.44h-1.42zM104.56 68.91h1.42v1.44h-1.42zM105.98 80.41h1.42v1.44h-1.42zM105.98 67.47h1.42v1.44h-1.42zM107.4 67.47h1.42v1.44h-1.42zM110.24 81.84h1.42v1.44h-1.42zM111.66 66.04h1.42v1.44h-1.42zM113.08 83.28h1.42v1.44h-1.42zM114.5 64.6h1.42v1.44h-1.42zM117.34 64.6h1.42v1.44h-1.42zM121.6 80.41h1.42v1.44h-1.42zM123.02 78.97h1.42v1.44h-1.42zM123.02 77.53h1.42v1.44h-1.42zM124.44 77.53h1.42v1.44h-1.42zM125.86 76.1h1.42v1.44h-1.42z" fill="#13aabd" shape-rendering="crispEdges"/>
<path d="M70.48 93.34h1.42v1.44h-1.42zM71.9 90.47h1.42v1.44h-1.42zM73.32 89.03h1.42v1.44h-1.42zM74.74 86.15h1.42v1.44h-1.42zM77.58 101.96h1.42v1.44h-1.42zM79 84.72h1.42v1.44h-1.42zM80.42 84.72h1.42v1.44h-1.42zM84.68 101.96h1.42v1.44h-1.42zM86.1 101.96h1.42v1.44h-1.42zM86.1 84.72h1.42v1.44h-1.42zM90.36 101.96h1.42v1.44h-1.42zM103.14 76.1h1.42v1.44h-1.42zM103.14 73.22h1.42v1.44h-1.42zM103.14 71.78h1.42v1.44h-1.42zM108.82 81.84h1.42v1.44h-1.42zM108.82 67.47h1.42v1.44h-1.42zM110.24 68.91h1.42v1.44h-1.42zM110.24 67.47h1.42v1.44h-1.42zM110.24 66.04h1.42v1.44h-1.42zM111.66 83.28h1.42v1.44h-1.42zM114.5 83.28h1.42v1.44h-1.42zM118.76 81.84h1.42v1.44h-1.42zM118.76 66.04h1.42v1.44h-1.42zM120.18 67.47h1.42v1.44h-1.42zM121.6 68.91h1.42v1.44h-1.42zM124.44 71.78h1.42v1.44h-1.42zM125.86 77.53h1.42v1.44h-1.42zM125.86 74.66h1.42v1.44h-1.42z" fill="#0da7c4" shape-rendering="crispEdges"/>
<path d="M70.48 91.9h1.42v1.44h-1.42zM71.9 99.09h1.42v1.44h-1.42zM71.9 89.03h1.42v1.44h-1.42zM73.32 100.52h1.42v1.44h-1.42zM74.74 101.96h1.42v1.44h-1.42zM86.1 83.28h1.42v1.44h-1.42zM91.78 87.59h1.42v1.44h-1.42zM93.2 100.52h1.42v1.44h-1.42zM93.2 89.03h1.42v1.44h-1.42zM94.62 97.65h1.42v1.44h-1.42zM94.62 91.9h1.42v1.44h-1.42zM96.04 93.34h1.42v1.44h-1.42zM96.04 91.9h1.42v1.44h-1.42zM101.72 76.1h1.42v1.44h-1.42zM101.72 74.66h1.42v1.44h-1.42zM103.14 78.97h1.42v1.44h-1.42zM105.98 66.04h1.42v1.44h-1.42zM107.4 81.84h1.42v1.44h-1.42zM107.4 66.04h1.42v1.44h-1.42zM108.82 64.6h1.42v1.44h-1.42zM110.24 83.28h1.42v1.44h-1.42zM110.24 64.6h1.42v1.44h-1.42zM111.66 64.6h1.42v1.44h-1.42zM114.5 63.16h1.42v1.44h-1.42zM117.34 83.28h1.42v1.44h-1.42zM117.34 63.16h1.42v1.44h-1.42zM120.18 66.04h1.42v1.44h-1.42zM121.6 83.28h1.42v1.44h-1.42zM123.02 68.91h1.42v1.44h-1.42zM124.44 70.35h1.42v1.44h-1.42zM125.86 71.78h1.42v1.44h-1.42zM127.28 77.53h1.42v1.44h-1.42zM127.28 74.66h1.42v1.44h-1.42zM128.7 74.66h1.42v1.44h-1.42z" fill="#089ecc" shape-rendering="crispEdges"/>
<path d="M71.9 96.21h1.42v1.44h-1.42zM73.32 97.65h1.42v1.44h-1.42zM74.74 99.09h1.42v1.44h-1.42zM74.74 89.03h1.42v1.44h-1.42zM79 86.15h1.42v1.44h-1.42zM83.26 86.15h1.42v1.44h-1.42zM84.68 86.15h1.42v1.44h-1.42zM86.1 100.52h1.42v1.44h-1.42zM86.1 86.15h1.42v1.44h-1.42zM87.52 100.52h1.42v1.44h-1.42zM88.94 87.59h1.42v1.44h-1.42zM90.36 100.52h1.42v1.44h-1.42zM91.78 94.78h1.42v1.44h-1.42zM91.78 93.34h1.42v1.44h-1.42zM91.78 91.9h1.42v1.44h-1.42zM105.98 77.53h1.42v1.44h-1.42zM105.98 76.1h1.42v1.44h-1.42zM105.98 70.35h1.42v1.44h-1.42zM105.98 68.91h1.42v1.44h-1.42zM107.4 73.22h1.42v1.44h-1.42zM107.4 71.78h1.42v1.44h-1.42zM107.4 68.91h1.42v1.44h-1.42zM108.82 70.35h1.42v1.44h-1.42zM110.24 80.41h1.42v1.44h-1.42zM111.66 81.84h1.42v1.44h-1.42zM114.5 66.04h1.42v1.44h-1.42zM115.92 66.04h1.42v1.44h-1.42zM117.34 67.47h1.42v1.44h-1.42zM118.76 80.41h1.42v1.44h-1.42zM118.76 68.91h1.42v1.44h-1.42zM120.18 78.97h1.42v1.44h-1.42zM121.6 71.78h1.42v1.44h-1.42zM123.02 74.66h1.42v1.44h-1.42zM123.02 73.22h1.42v1.44h-1.42z" fill="#27b4aa" shape-rendering="crispEdges"/>
<path d="M71.9 94.78h1.42v1.44h-1.42zM71.9 93.34h1.42v1.44h-1.42zM76.16 99.09h1.42v1.44h-1.42zM77.58 99.09h1.42v1.44h-1.42zM80.42 86.15h1.42v1.44h-1.42zM88.94 100.52h1.42v1.44h-1.42zM90.36 89.03h1.42v1.44h-1.42zM91.78 97.65h1.42v1.44h-1.42zM91.78 96.21h1.42v1.44h-1.42zM107.4 78.97h1.42v1.44h-1.42zM107.4 70.35h1.42v1.44h-1.42zM108.82 71.78h1.42v1.44h-1.42zM110.24 71.78h1.42v1.44h-1.42zM113.08 81.84h1.42v1.44h-1.42zM120.18 77.53h1.42v1.44h-1.42zM120.18 70.35h1.42v1.44h-1.42zM121.6 74.66h1.42v1.44h-1.42z" fill="#2eb7a4" shape-rendering="crispEdges"/>
<path d="M71.9 91.9h1.42v1.44h-1.42zM73.32 90.47h1.42v1.44h-1.42zM77.58 100.52h1.42v1.44h-1.42zM77.58 86.15h1.42v1.44h-1.42zM80.42 101.96h1.42v1.44h-1.42zM91.78 99.09h1.42v1.44h-1.42zM91.78 90.47h1.42v1.44h-1.42zM105.98 78.97h1.42v1.44h-1.42zM105.98 74.66h1.42v1.44h-1.42zM108.82 80.41h1.42v1.44h-1.42zM111.66 70.35h1.42v1.44h-1.42zM113.08 66.04h1.42v1.44h-1.42zM114.5 81.84h1.42v1.44h-1.42zM117.34 66.04h1.42v1.44h-1.42zM121.6 76.1h1.42v1.44h-1.42zM124.44 74.66h1.42v1.44h-1.42z" fill="#21b1b1" shape-rendering="crispEdges"/>
<path d="M73.32 96.21h1.42v1.44h-1.42zM74.74 97.65h1.42v1.44h-1.42zM74.74 90.47h1.42v1.44h-1.42zM77.58 87.59h1.42v1.44h-1.42zM87.52 87.59h1.42v1.44h-1.42zM107.4 77.53h1.42v1.44h-1.42zM107.4 76.1h1.42v1.44h-1.42zM108.82 73.22h1.42v1.44h-1.42zM110.24 78.97h1.42v1.44h-1.42zM113.08 68.91h1.42v1.44h-1.42zM115.92 67.47h1.42v1.44h-1.42z" fill="#4cba95" shape-rendering="crispEdges"/>
<path d="M73.32 94.78h1.42v1.44h-1.42zM77.58 97.65h1.42v1.44h-1.42zM79 99.09h1.42v1.44h-1.42zM81.84 100.52h1.42v1.44h-1.42zM83.26 100.52h1.42v1.44h-1.42zM86.1 99.09h1.42v1.44h-1.42zM86.1 87.59h1.42v1.44h-1.42zM87.52 99.09h1.42v1.44h-1.42zM90.36 97.65h1.42v1.44h-1.42zM90.36 90.47h1.42v1.44h-1.42zM108.82 77.53h1.42v1.44h-1.42zM108.82 74.66h1.42v1.44h-1.42zM115.92 68.91h1.42v1.44h-1.42zM117.34 78.97h1.42v1.44h-1.42zM117.34 70.35h1.42v1.44h-1.42zM120.18 73.22h1.42v1.44h-1.42z" fill="#69bc86" shape-rendering="crispEdges"/>
<path d="M73.32 93.34h1.42v1.44h-1.42zM74.74 96.21h1.42v1.44h-1.42zM76.16 90.47h1.42v1.44h-1.42zM77.58 89.03h1.42v1.44h-1.42zM80.42 87.59h1.42v1.44h-1.42zM88.94 89.03h1.42v1.44h-1.42zM90.36 96.21h1.42v1.44h-1.42zM90.36 94.78h1.42v1.44h-1.42zM90.36 93.34h1.42v1.44h-1.42zM90.36 91.9h1.42v1.44h-1.42zM108.82 76.1h1.42v1.44h-1.42zM110.24 77.53h1.42v1.44h-1.42zM110.24 74.66h1.42v1.44h-1.42zM111.66 73.22h1.42v1.44h-1.42zM113.08 71.78h1.42v1.44h-1.42zM114.5 68.91h1.42v1.44h-1.42zM117.34 77.53h1.42v1.44h-1.42zM118.76 76.1h1.42v1.44h-1.42zM118.76 71.78h1.42v1.44h-1.42z" fill="#78be7f" shape-rendering="crispEdges"/>
<path d="M73.32 91.9h1.42v1.44h-1.42zM76.16 97.65h1.42v1.44h-1.42zM76.16 89.03h1.42v1.44h-1.42zM79 87.59h1.42v1.44h-1.42zM80.42 100.52h1.42v1.44h-1.42zM88.94 99.09h1.42v1.44h-1.42zM110.24 73.22h1.42v1.44h-1.42zM111.66 78.97h1.42v1.44h-1.42zM113.08 78.97h1.42v1.44h-1.42zM113.08 70.35h1.42v1.44h-1.42zM114.5 78.97h1.42v1.44h-1.42zM114.5 67.47h1.42v1.44h-1.42zM115.92 78.97h1.42v1.44h-1.42zM118.76 77.53h1.42v1.44h-1.42zM118.76 70.35h1.42v1.44h-1.42zM120.18 74.66h1.42v1.44h-1.42zM120.18 71.78h1.42v1.44h-1.42z" fill="#5abb8e" shape-rendering="crispEdges"/>
<path d="M74.74 94.78h1.42v1.44h-1.42zM80.42 99.09h1.42v1.44h-1.42zM87.52 89.03h1.42v1.44h-1.42zM88.94 97.65h1.42v1.44h-1.42zM111.66 76.1h1.42v1.44h-1.42zM114.5 71.78h1.42v1.44h-1.42zM115.92 76.1h1.42v1.44h-1.42zM115.92 71.78h1.42v1.44h-1.42zM117.34 74.66h1.42v1.44h-1.42zM117.34 73.22h1.42v1.44h-1.42z" fill="#a0be6d" shape-rendering="crispEdges"/>
<path d="M74.74 93.34h1.42v1.44h-1.42zM77.58 96.21h1.42v1.44h-1.42zM77.58 90.47h1.42v1.44h-1.42zM81.84 99.09h1.42v1.44h-1.42zM83.26 99.09h1.42v1.44h-1.42zM113.08 76.1h1.42v1.44h-1.42zM113.08 74.66h1.42v1.44h-1.42zM114.5 76.1h1.42v1.44h-1.42zM114.5 73.22h1.42v1.44h-1.42zM115.92 74.66h1.42v1.44h-1.42zM115.92 73.22h1.42v1.44h-1.42z" fill="#acbd68" shape-rendering="crispEdges"/>
<path d="M74.74 91.9h1.42v1.44h-1.42zM84.68 99.09h1.42v1.44h-1.42zM84.68 87.59h1.42v1.44h-1.42zM111.66 77.53h1.42v1.44h-1.42zM113.08 77.53h1.42v1.44h-1.42zM114.5 77.53h1.42v1.44h-1.42zM114.5 70.35h1.42v1.44h-1.42zM115.92 77.53h1.42v1.44h-1.42zM115.92 70.35h1.42v1.44h-1.42zM118.76 74.66h1.42v1.44h-1.42zM118.76 73.22h1.42v1.44h-1.42z" fill="#87bf77" shape-rendering="crispEdges"/>
<path d="M74.74 87.59h1.42v1.44h-1.42zM76.16 100.52h1.42v1.44h-1.42zM76.16 86.15h1.42v1.44h-1.42zM79 101.96h1.42v1.44h-1.42zM81.84 101.96h1.42v1.44h-1.42zM87.52 86.15h1.42v1.44h-1.42zM93.2 96.21h1.42v1.44h-1.42zM104.56 77.53h1.42v1.44h-1.42zM104.56 76.1h1.42v1.44h-1.42zM104.56 74.66h1.42v1.44h-1.42zM104.56 73.22h1.42v1.44h-1.42zM104.56 71.78h1.42v1.44h-1.42zM104.56 70.35h1.42v1.44h-1.42zM105.98 73.22h1.42v1.44h-1.42zM105.98 71.78h1.42v1.44h-1.42zM107.4 80.41h1.42v1.44h-1.42zM108.82 68.91h1.42v1.44h-1.42zM110.24 70.35h1.42v1.44h-1.42zM111.66 68.91h1.42v1.44h-1.42zM111.66 67.47h1.42v1.44h-1.42zM115.92 81.84h1.42v1.44h-1.42zM115.92 64.6h1.42v1.44h-1.42zM117.34 81.84h1.42v1.44h-1.42zM118.76 67.47h1.42v1.44h-1.42zM120.18 80.41h1.42v1.44h-1.42zM120.18 68.91h1.42v1.44h-1.42zM121.6 78.97h1.42v1.44h-1.42zM121.6 77.53h1.42v1.44h-1.42zM121.6 70.35h1.42v1.44h-1.42zM123.02 76.1h1.42v1.44h-1.42zM123.02 71.78h1.42v1.44h-1.42zM124.44 76.1h1.42v1.44h-1.42zM124.44 73.22h1.42v1.44h-1.42z" fill="#1aaeb7" shape-rendering="crispEdges"/>
<path d="M76.16 96.21h1.42v1.44h-1.42zM79 97.65h1.42v1.44h-1.42zM79 89.03h1.42v1.44h-1.42zM81.84 87.59h1.42v1.44h-1.42zM83.26 87.59h1.42v1.44h-1.42zM110.24 76.1h1.42v1.44h-1.42zM111.66 74.66h1.42v1.44h-1.42zM113.08 73.22h1.42v1.44h-1.42zM117.34 76.1h1.42v1.44h-1.42zM117.34 71.78h1.42v1.44h-1.42z" fill="#93be72" shape-rendering="crispEdges"/>
<path d="M76.16 94.78h1.42v1.44h-1.42zM80.42 97.65h1.42v1.44h-1.42zM80.42 89.03h1.42v1.44h-1.42zM84.68 97.65h1.42v1.44h-1.42zM86.1 97.65h1.42v1.44h-1.42zM86.1 89.03h1.42v1.44h-1.42zM88.94 96.21h1.42v1.44h-1.42zM88.94 94.78h1.42v1.44h-1.42z" fill="#c5bc5e" shape-rendering="crispEdges"/>
<path d="M76.16 93.34h1.42v1.44h-1.42zM79 96.21h1.42v1.44h-1.42zM79 90.47h1.42v1.44h-1.42zM81.84 97.65h1.42v1.44h-1.42zM83.26 97.65h1.42v1.44h-1.42zM84.68 89.03h1.42v1.44h-1.42zM88.94 93.34h1.42v1.44h-1.42zM88.94 91.9h1.42v1.44h-1.42z" fill="#d1bb59" shape-rendering="crispEdges"/>
<path d="M76.16 91.9h1.42v1.44h-1.42zM87.52 97.65h1.42v1.44h-1.42zM88.94 90.47h1.42v1.44h-1.42zM114.5 74.66h1.42v1.44h-1.42z" fill="#b8bc63" shape-rendering="crispEdges"/>
<path d="M76.16 87.59h1.42v1.44h-1.42zM79 100.52h1.42v1.44h-1.42zM81.84 86.15h1.42v1.44h-1.42zM84.68 100.52h1.42v1.44h-1.42zM90.36 99.09h1.42v1.44h-1.42zM107.4 74.66h1.42v1.44h-1.42zM108.82 78.97h1.42v1.44h-1.42zM111.66 80.41h1.42v1.44h-1.42zM111.66 71.78h1.42v1.44h-1.42zM113.08 80.41h1.42v1.44h-1.42zM113.08 67.47h1.42v1.44h-1.42zM114.5 80.41h1.42v1.44h-1.42zM115.92 80.41h1.42v1.44h-1.42zM117.34 80.41h1.42v1.44h-1.42zM117.34 68.91h1.42v1.44h-1.42zM118.76 78.97h1.42v1.44h-1.42zM120.18 76.1h1.42v1.44h-1.42zM121.6 73.22h1.42v1.44h-1.42z" fill="#3db89c" shape-rendering="crispEdges"/>
<path d="M77.58 94.78h1.42v1.44h-1.42zM80.42 96.21h1.42v1.44h-1.42zM83.26 89.03h1.42v1.44h-1.42zM87.52 90.47h1.42v1.44h-1.42z" fill="#e0bf4c" shape-rendering="crispEdges"/>
<path d="M77.58 93.34h1.42v1.44h-1.42zM79 91.9h1.42v1.44h-1.42zM83.26 96.21h1.42v1.44h-1.42zM86.1 96.21h1.42v1.44h-1.42zM86.1 90.47h1.42v1.44h-1.42zM87.52 94.78h1.42v1.44h-1.42zM87.52 91.9h1.42v1.44h-1.42z" fill="#efc43f" shape-rendering="crispEdges"/>
<path d="M77.58 91.9h1.42v1.44h-1.42zM81.84 89.03h1.42v1.44h-1.42z" fill="#d8bd52" shape-rendering="crispEdges"/>
<path d="M79 94.78h1.42v1.44h-1.42zM84.68 96.21h1.42v1.44h-1.42zM84.68 90.47h1.42v1.44h-1.42zM87.52 93.34h1.42v1.44h-1.42z" fill="#f6c639" shape-rendering="crispEdges"/>
<path d="M79 93.34h1.42v1.44h-1.42zM80.42 94.78h1.42v1.44h-1.42zM80.42 91.9h1.42v1.44h-1.42zM81.84 90.47h1.42v1.44h-1.42zM83.26 90.47h1.42v1.44h-1.42z" fill="#fec832" shape-rendering="crispEdges"/>
<path d="M80.42 93.34h1.42v1.44h-1.42zM81.84 94.78h1.42v1.44h-1.42zM86.1 91.9h1.42v1.44h-1.42z" fill="#fdd02c" shape-rendering="crispEdges"/>
<path d="M80.42 90.47h1.42v1.44h-1.42zM81.84 96.21h1.42v1.44h-1.42zM87.52 96.21h1.42v1.44h-1.42z" fill="#e8c246" shape-rendering="crispEdges"/>
<path d="M81.84 93.34h1.42v1.44h-1.42zM83.26 94.78h1.42v1.44h-1.42zM83.26 91.9h1.42v1.44h-1.42zM84.68 91.9h1.42v1.44h-1.42z" fill="#fce220" shape-rendering="crispEdges"/>
<path d="M81.84 91.9h1.42v1.44h-1.42zM86.1 94.78h1.42v1.44h-1.42zM86.1 93.34h1.42v1.44h-1.42z" fill="#fcd926" shape-rendering="crispEdges"/>
<path d="M83.26 93.34h1.42v1.44h-1.42zM84.68 93.34h1.42v1.44h-1.42z" fill="#faf214" shape-rendering="crispEdges"/>
<path d="M84.68 94.78h1.42v1.44h-1.42z" fill="#fbea1a" shape-rendering="crispEdges"/>
</g>
<path d="M29.3 169.5v-3.6M32.14 169.5v-1.8M34.98 169.5v-1.8M37.82 169.5v-1.8M40.66 169.5v-1.8M43.5 169.5v-3.6M46.34 169.5v-1.8M49.18 169.5v-1.8M52.02 169.5v-1.8M54.86 169.5v-1.8M57.7 169.5v-3.6M60.54 169.5v-1.8M63.38 169.5v-1.8M66.22 169.5v-1.8M69.06 169.5v-1.8M71.9 169.5v-3.6M74.74 169.5v-1.8M77.58 169.5v-1.8M80.42 169.5v-1.8M83.26 169.5v-1.8M86.1 169.5v-3.6M88.94 169.5v-1.8M91.78 169.5v-1.8M94.62 169.5v-1.8M97.46 169.5v-1.8M100.3 169.5v-3.6M103.14 169.5v-1.8M105.98 169.5v-1.8M108.82 169.5v-1.8M111.66 169.5v-1.8M114.5 169.5v-3.6M117.34 169.5v-1.8M120.18 169.5v-1.8M123.02 169.5v-1.8M125.86 169.5v-1.8M128.7 169.5v-3.6M131.54 169.5v-1.8M134.38 169.5v-1.8M137.22 169.5v-1.8M140.06 169.5v-1.8M142.9 169.5v-3.6M145.74 169.5v-1.8M148.58 169.5v-1.8M151.42 169.5v-1.8M154.26 169.5v-1.8M157.1 169.5v-3.6M159.94 169.5v-1.8M162.78 169.5v-1.8M165.62 169.5v-1.8M168.46 169.5v-1.8M171.3 169.5v-3.6M29.3 169.5h3.6M29.3 164.71h1.8M29.3 159.92h1.8M29.3 155.13h1.8M29.3 150.34h1.8M29.3 145.55h3.6M29.3 140.76h1.8M29.3 135.97h1.8M29.3 131.18h1.8M29.3 126.39h1.8M29.3 121.6h3.6M29.3 116.81h1.8M29.3 112.02h1.8M29.3 107.23h1.8M29.3 102.44h1.8M29.3 97.65h3.6M29.3 92.86h1.8M29.3 88.07h1.8M29.3 83.28h1.8M29.3 78.49h1.8M29.3 73.7h3.6M29.3 68.91h1.8M29.3 64.12h1.8M29.3 59.33h1.8M29.3 54.54h1.8M29.3 49.75h3.6M29.3 44.96h1.8M29.3 40.17h1.8M29.3 35.38h1.8M29.3 30.59h1.8M29.3 25.8h3.6" stroke="#10101c" stroke-width="0.7" fill="none"/>
<path d="M29.3 25.8V169.5H171.3" stroke="#10101c" stroke-width="0.8" fill="none"/>
<text x="28.9" y="178.2" font-size="8.1" text-anchor="middle" fill="#111" stroke="#111" stroke-width="0.28">2</text>
<text x="43.1" y="178.2" font-size="8.1" text-anchor="middle" fill="#111" stroke="#111" stroke-width="0.28">2.5</text>
<text x="57.3" y="178.2" font-size="8.1" text-anchor="middle" fill="#111" stroke="#111" stroke-width="0.28">3</text>
<text x="71.5" y="178.2" font-size="8.1" text-anchor="middle" fill="#111" stroke="#111" stroke-width="0.28">3.5</text>
<text x="85.7" y="178.2" font-size="8.1" text-anchor="middle" fill="#111" stroke="#111" stroke-width="0.28">4</text>
<text x="99.9" y="178.2" font-size="8.1" text-anchor="middle" fill="#111" stroke="#111" stroke-width="0.28">4.5</text>
<text x="114.1" y="178.2" font-size="8.1" text-anchor="middle" fill="#111" stroke="#111" stroke-width="0.28">5</text>
<text x="128.3" y="178.2" font-size="8.1" text-anchor="middle" fill="#111" stroke="#111" stroke-width="0.28">5.5</text>
<text x="142.5" y="178.2" font-size="8.1" text-anchor="middle" fill="#111" stroke="#111" stroke-width="0.28">6</text>
<text x="156.7" y="178.2" font-size="8.1" text-anchor="middle" fill="#111" stroke="#111" stroke-width="0.28">6.5</text>
<text x="170.9" y="178.2" font-size="8.1" text-anchor="middle" fill="#111" stroke="#111" stroke-width="0.28">7</text>
<text x="29" y="173.5" font-size="8.2" text-anchor="end" fill="#111" stroke="#111" stroke-width="0.28">1</text>
<text x="29" y="148.55" font-size="8.2" text-anchor="end" fill="#111" stroke="#111" stroke-width="0.28">2</text>
<text x="29" y="124.6" font-size="8.2" text-anchor="end" fill="#111" stroke="#111" stroke-width="0.28">3</text>
<text x="29" y="100.65" font-size="8.2" text-anchor="end" fill="#111" stroke="#111" stroke-width="0.28">4</text>
<text x="29" y="76.7" font-size="8.2" text-anchor="end" fill="#111" stroke="#111" stroke-width="0.28">5</text>
<text x="29" y="52.75" font-size="8.2" text-anchor="end" fill="#111" stroke="#111" stroke-width="0.28">6</text>
<text x="29" y="28.8" font-size="8.2" text-anchor="end" fill="#111" stroke="#111" stroke-width="0.28">7</text>
<text x="100.5" y="188.7" font-size="11.4" text-anchor="middle" fill="#111" stroke="#111" stroke-width="0.28">X [mm]</text>
<text x="15.1" y="97.45" font-size="11.6" text-anchor="middle" fill="#111" stroke="#111" stroke-width="0.28" transform="rotate(-90 15.1 97.45)">Y [mm]</text>
</g>
<g>
<rect x="216.1" y="25.7" width="141.9" height="144.3" fill="#fff" stroke="#3c3c3c" stroke-width="0.9"/>
<path d="M216.1 170v-4.6M218.94 170v-2.4M221.78 170v-2.4M224.61 170v-2.4M227.45 170v-2.4M230.29 170v-4.6M233.13 170v-2.4M235.97 170v-2.4M238.8 170v-2.4M241.64 170v-2.4M244.48 170v-4.6M247.32 170v-2.4M250.16 170v-2.4M252.99 170v-2.4M255.83 170v-2.4M258.67 170v-4.6M261.51 170v-2.4M264.35 170v-2.4M267.18 170v-2.4M270.02 170v-2.4M272.86 170v-4.6M275.7 170v-2.4M278.54 170v-2.4M281.37 170v-2.4M284.21 170v-2.4M287.05 170v-4.6M289.89 170v-2.4M292.73 170v-2.4M295.56 170v-2.4M298.4 170v-2.4M301.24 170v-4.6M304.08 170v-2.4M306.92 170v-2.4M309.75 170v-2.4M312.59 170v-2.4M315.43 170v-4.6M318.27 170v-2.4M321.11 170v-2.4M323.94 170v-2.4M326.78 170v-2.4M329.62 170v-4.6M332.46 170v-2.4M335.3 170v-2.4M338.13 170v-2.4M340.97 170v-2.4M343.81 170v-4.6M346.65 170v-2.4M349.49 170v-2.4M352.32 170v-2.4M355.16 170v-2.4M358 170v-4.6M216.1 170h4.4M216.1 166.02h2.4M216.1 162.03h2.4M216.1 158.05h2.4M216.1 154.06h2.4M216.1 150.08h4.4M216.1 146.1h2.4M216.1 142.11h2.4M216.1 138.13h2.4M216.1 134.14h2.4M216.1 130.16h4.4M216.1 126.18h2.4M216.1 122.19h2.4M216.1 118.21h2.4M216.1 114.22h2.4M216.1 110.24h4.4M216.1 106.26h2.4M216.1 102.27h2.4M216.1 98.29h2.4M216.1 94.3h2.4M216.1 90.32h4.4M216.1 86.34h2.4M216.1 82.35h2.4M216.1 78.37h2.4M216.1 74.38h2.4M216.1 70.4h4.4M216.1 66.42h2.4M216.1 62.43h2.4M216.1 58.45h2.4M216.1 54.46h2.4M216.1 50.48h4.4M216.1 46.5h2.4M216.1 42.51h2.4M216.1 38.53h2.4M216.1 34.54h2.4M216.1 30.56h4.4M216.1 26.58h2.4" stroke="#2a2a2a" stroke-width="0.6" fill="none"/>
<path d="M216.1 170V170H217.52V170H218.94V170H220.36V170H221.78V170H223.19V170H224.61V170H226.03V170H227.45V170H228.87V170H230.29V170H231.71V170H233.13V170H234.55V170H235.97V170H237.38V170H238.8V170H240.22V170H241.64V170H243.06V170H244.48V170H245.9V170H247.32V170H248.74V170H250.16V170H251.57V170H252.99V170H254.41V170H255.83V170H257.25V168.01H258.67V168.01H260.09V170H261.51V170H262.93V170H264.35V168.01H265.76V168.01H267.18V170H268.6V170H270.02V168.01H271.44V168.01H272.86V166.02H274.28V166.02H275.7V166.02H277.12V166.02H278.54V156.06H279.95V160.04H281.37V160.04H282.79V156.06H284.21V146.1H285.63V138.13H287.05V134.14H288.47V122.19H289.89V110.24H291.31V96.3H292.73V74.38H294.14V58.45H295.56V80.36H296.98V82.35H298.4V66.42H299.82V32.55H301.24V54.46H302.66V56.46H304.08V90.32H305.5V58.45H306.92V70.4H308.34V68.41H309.75V88.33H311.17V112.23H312.59V114.22H314.01V116.22H315.43V130.16H316.85V136.14H318.27V144.1H319.69V156.06H321.11V152.07H322.52V162.03H323.94V156.06H325.36V166.02H326.78V162.03H328.2V166.02H329.62V164.02H331.04V168.01H332.46V166.02H333.88V166.02H335.3V166.02H336.72V166.02H338.13V168.01H339.55V170H340.97V168.01H342.39V168.01H343.81V168.01H345.23V168.01H346.65V168.01H348.07V168.01H349.49V168.01H350.9V170H352.32V170H353.74V170H355.16V170H356.58V170H358V170" stroke="#3038c0" stroke-width="1.05" fill="none" stroke-linejoin="miter"/>
<path d="M216.1 170L216.75 170L217.39 170L218.03 170L218.68 170L219.32 170L219.97 170L220.62 170L221.26 170L221.91 170L222.55 170L223.19 170L223.84 170L224.48 170L225.13 170L225.78 170L226.42 170L227.06 170L227.71 170L228.35 170L229 170L229.65 170L230.29 170L230.94 170L231.58 170L232.22 170L232.87 170L233.51 170L234.16 170L234.81 170L235.45 170L236.09 170L236.74 170L237.38 170L238.03 170L238.67 170L239.32 170L239.97 170L240.61 170L241.25 170L241.9 170L242.54 170L243.19 170L243.84 170L244.48 170L245.12 170L245.77 170L246.41 170L247.06 170L247.7 170L248.35 170L249 170L249.64 170L250.28 170L250.93 170L251.57 170L252.22 170L252.87 170L253.51 170L254.16 170L254.8 170L255.44 170L256.09 170L256.74 170L257.38 170L258.02 170L258.67 170L259.31 170L259.96 170L260.61 169.99L261.25 169.99L261.89 169.99L262.54 169.98L263.19 169.98L263.83 169.97L264.48 169.96L265.12 169.95L265.76 169.93L266.41 169.91L267.06 169.89L267.7 169.86L268.35 169.82L268.99 169.77L269.63 169.7L270.28 169.63L270.93 169.53L271.57 169.41L272.22 169.27L272.86 169.09L273.5 168.88L274.15 168.62L274.8 168.31L275.44 167.94L276.08 167.51L276.73 166.99L277.38 166.39L278.02 165.68L278.67 164.87L279.31 163.92L279.95 162.84L280.6 161.61L281.25 160.2L281.89 158.62L282.53 156.84L283.18 154.86L283.82 152.66L284.47 150.23L285.12 147.57L285.76 144.67L286.4 141.53L287.05 138.16L287.7 134.54L288.34 130.71L288.99 126.66L289.63 122.42L290.27 118.02L290.92 113.47L291.56 108.81L292.21 104.08L292.86 99.32L293.5 94.56L294.14 89.87L294.79 85.28L295.44 80.86L296.08 76.64L296.73 72.68L297.37 69.03L298.01 65.74L298.66 62.84L299.31 60.38L299.95 58.39L300.59 56.9L301.24 55.93L301.88 55.49L302.53 55.58L303.18 56.22L303.82 57.38L304.46 59.05L305.11 61.22L305.75 63.84L306.4 66.88L307.05 70.31L307.69 74.07L308.34 78.13L308.98 82.43L309.62 86.92L310.27 91.55L310.92 96.27L311.56 101.03L312.21 105.79L312.85 110.5L313.5 115.12L314.14 119.62L314.78 123.97L315.43 128.14L316.08 132.12L316.72 135.87L317.37 139.4L318.01 142.69L318.65 145.74L319.3 148.56L319.94 151.13L320.59 153.48L321.24 155.6L321.88 157.51L322.52 159.21L323.17 160.73L323.81 162.07L324.46 163.25L325.11 164.28L325.75 165.17L326.39 165.95L327.04 166.62L327.69 167.19L328.33 167.67L328.97 168.08L329.62 168.43L330.26 168.72L330.91 168.96L331.56 169.16L332.2 169.32L332.85 169.46L333.49 169.57L334.13 169.66L334.78 169.73L335.43 169.79L336.07 169.83L336.72 169.87L337.36 169.9L338 169.92L338.65 169.94L339.3 169.95L339.94 169.97L340.59 169.97L341.23 169.98L341.88 169.99L342.52 169.99L343.17 169.99L343.81 169.99L344.46 170L345.1 170L345.75 170L346.39 170L347.03 170L347.68 170L348.33 170L348.97 170L349.62 170L350.26 170L350.9 170L351.55 170L352.2 170L352.84 170L353.49 170L354.13 170L354.77 170L355.42 170L356.06 170L356.71 170L357.36 170L358 170" stroke="#f2121c" stroke-width="1.3" fill="none" stroke-linejoin="round"/>
<path d="M216.1 170H358" stroke="#000" stroke-opacity="0.16" stroke-width="1.2" fill="none"/>
<g font-family='"Liberation Sans", sans-serif'>
<text x="215.9" y="177.5" font-size="7.95" text-anchor="middle" fill="#111" stroke="#111" stroke-width="0.28">2</text>
<text x="230.09" y="177.5" font-size="7.95" text-anchor="middle" fill="#111" stroke="#111" stroke-width="0.28">2.5</text>
<text x="244.28" y="177.5" font-size="7.95" text-anchor="middle" fill="#111" stroke="#111" stroke-width="0.28">3</text>
<text x="258.47" y="177.5" font-size="7.95" text-anchor="middle" fill="#111" stroke="#111" stroke-width="0.28">3.5</text>
<text x="272.66" y="177.5" font-size="7.95" text-anchor="middle" fill="#111" stroke="#111" stroke-width="0.28">4</text>
<text x="286.85" y="177.5" font-size="7.95" text-anchor="middle" fill="#111" stroke="#111" stroke-width="0.28">4.5</text>
<text x="301.04" y="177.5" font-size="7.95" text-anchor="middle" fill="#111" stroke="#111" stroke-width="0.28">5</text>
<text x="315.23" y="177.5" font-size="7.95" text-anchor="middle" fill="#111" stroke="#111" stroke-width="0.28">5.5</text>
<text x="329.42" y="177.5" font-size="7.95" text-anchor="middle" fill="#111" stroke="#111" stroke-width="0.28">6</text>
<text x="343.61" y="177.5" font-size="7.95" text-anchor="middle" fill="#111" stroke="#111" stroke-width="0.28">6.5</text>
<text x="357.8" y="177.5" font-size="7.95" text-anchor="middle" fill="#111" stroke="#111" stroke-width="0.28">7</text>
<text x="214.5" y="173.4" font-size="8.1" text-anchor="end" fill="#111" stroke="#111" stroke-width="0.28">0</text>
<text x="214.5" y="153.48" font-size="8.1" text-anchor="end" fill="#111" stroke="#111" stroke-width="0.28">10</text>
<text x="214.5" y="133.56" font-size="8.1" text-anchor="end" fill="#111" stroke="#111" stroke-width="0.28">20</text>
<text x="214.5" y="113.64" font-size="8.1" text-anchor="end" fill="#111" stroke="#111" stroke-width="0.28">30</text>
<text x="214.5" y="93.72" font-size="8.1" text-anchor="end" fill="#111" stroke="#111" stroke-width="0.28">40</text>
<text x="214.5" y="73.8" font-size="8.1" text-anchor="end" fill="#111" stroke="#111" stroke-width="0.28">50</text>
<text x="214.5" y="53.88" font-size="8.1" text-anchor="end" fill="#111" stroke="#111" stroke-width="0.28">60</text>
<text x="214.5" y="33.96" font-size="8.1" text-anchor="end" fill="#111" stroke="#111" stroke-width="0.28">70</text>
<text x="287.35" y="188.2" font-size="11.1" text-anchor="middle" fill="#111" stroke="#111" stroke-width="0.28">X[mm]</text>
<text x="203.9" y="26.2" font-size="11" text-anchor="end" fill="#111" stroke="#111" stroke-width="0.28" transform="rotate(-90 203.9 26.2)">Counts</text>
<text x="221" y="36.65" font-size="9.7" text-anchor="start" fill="#111" stroke="#111" stroke-width="0.28">0.78 mm FWHM</text>
</g>
</g>
<g>
<rect x="402.4" y="26.2" width="142.1" height="143.8" fill="#fff" stroke="#3c3c3c" stroke-width="0.9"/>
<path d="M402.4 170v-4.6M407.14 170v-2.4M411.87 170v-2.4M416.61 170v-2.4M421.35 170v-2.4M426.08 170v-4.6M430.82 170v-2.4M435.56 170v-2.4M440.29 170v-2.4M445.03 170v-2.4M449.77 170v-4.6M454.5 170v-2.4M459.24 170v-2.4M463.98 170v-2.4M468.71 170v-2.4M473.45 170v-4.6M478.19 170v-2.4M482.92 170v-2.4M487.66 170v-2.4M492.4 170v-2.4M497.13 170v-4.6M501.87 170v-2.4M506.61 170v-2.4M511.34 170v-2.4M516.08 170v-2.4M520.82 170v-4.6M525.55 170v-2.4M530.29 170v-2.4M535.03 170v-2.4M539.76 170v-2.4M544.5 170v-4.6M402.4 170h4.4M402.4 166.56h2.4M402.4 163.11h2.4M402.4 159.67h2.4M402.4 156.22h2.4M402.4 152.78h4.4M402.4 149.34h2.4M402.4 145.89h2.4M402.4 142.45h2.4M402.4 139h2.4M402.4 135.56h4.4M402.4 132.12h2.4M402.4 128.67h2.4M402.4 125.23h2.4M402.4 121.78h2.4M402.4 118.34h4.4M402.4 114.9h2.4M402.4 111.45h2.4M402.4 108.01h2.4M402.4 104.56h2.4M402.4 101.12h4.4M402.4 97.68h2.4M402.4 94.23h2.4M402.4 90.79h2.4M402.4 87.34h2.4M402.4 83.9h4.4M402.4 80.46h2.4M402.4 77.01h2.4M402.4 73.57h2.4M402.4 70.12h2.4M402.4 66.68h4.4M402.4 63.24h2.4M402.4 59.79h2.4M402.4 56.35h2.4M402.4 52.9h2.4M402.4 49.46h4.4M402.4 46.02h2.4M402.4 42.57h2.4M402.4 39.13h2.4M402.4 35.68h2.4M402.4 32.24h4.4M402.4 28.8h2.4" stroke="#2a2a2a" stroke-width="0.6" fill="none"/>
<path d="M402.4 170V170H403.82V170H405.24V170H406.66V170H408.08V170H409.5V170H410.93V170H412.35V170H413.77V170H415.19V170H416.61V170H418.03V170H419.45V170H420.87V170H422.29V170H423.71V170H425.14V170H426.56V170H427.98V170H429.4V170H430.82V170H432.24V170H433.66V170H435.08V170H436.5V170H437.92V170H439.35V170H440.77V170H442.19V170H443.61V170H445.03V168.28H446.45V166.56H447.87V166.56H449.29V168.28H450.71V168.28H452.13V168.28H453.56V166.56H454.98V170H456.4V170H457.82V170H459.24V170H460.66V168.28H462.08V168.28H463.5V166.56H464.92V166.56H466.34V166.56H467.77V168.28H469.19V166.56H470.61V166.56H472.03V164.83H473.45V164.83H474.87V166.56H476.29V163.11H477.71V163.11H479.13V156.22H480.56V139H481.98V132.12H483.4V133.84H484.82V126.95H486.24V106.29H487.66V92.51H489.08V77.01H490.5V59.79H491.92V46.02H493.34V33.96H494.76V39.13H496.19V32.24H497.61V42.57H499.03V37.41H500.45V75.29H501.87V77.01H503.29V106.29H504.71V118.34H506.13V126.95H507.55V140.73H508.98V149.34H510.4V149.34H511.82V159.67H513.24V163.11H514.66V156.22H516.08V161.39H517.5V168.28H518.92V170H520.34V166.56H521.76V168.28H523.18V170H524.61V166.56H526.03V168.28H527.45V166.56H528.87V168.28H530.29V168.28H531.71V170H533.13V166.56H534.55V170H535.97V170H537.39V170H538.82V170H540.24V170H541.66V170H543.08V170H544.5V170" stroke="#3038c0" stroke-width="1.05" fill="none" stroke-linejoin="miter"/>
<path d="M402.4 170L403.05 170L403.69 170L404.34 170L404.98 170L405.63 170L406.28 170L406.92 170L407.57 170L408.21 170L408.86 170L409.5 170L410.15 170L410.8 170L411.44 170L412.09 170L412.73 170L413.38 170L414.03 170L414.67 170L415.32 170L415.96 170L416.61 170L417.26 170L417.9 170L418.55 170L419.19 170L419.84 170L420.49 170L421.13 170L421.78 170L422.42 170L423.07 170L423.71 170L424.36 170L425.01 170L425.65 170L426.3 170L426.94 170L427.59 170L428.24 170L428.88 170L429.53 170L430.17 170L430.82 170L431.47 170L432.11 170L432.76 170L433.4 170L434.05 170L434.7 170L435.34 170L435.99 170L436.63 170L437.28 170L437.92 170L438.57 170L439.22 170L439.86 170L440.51 170L441.15 170L441.8 170L442.45 170L443.09 170L443.74 170L444.38 170L445.03 170L445.68 170L446.32 170L446.97 170L447.61 170L448.26 170L448.91 170L449.55 170L450.2 170L450.84 170L451.49 170L452.13 170L452.78 170L453.43 170L454.07 170L454.72 170L455.36 170L456.01 170L456.66 170L457.3 170L457.95 170L458.59 170L459.24 170L459.89 170L460.53 170L461.18 170L461.82 170L462.47 170L463.12 170L463.76 170L464.41 170L465.05 169.99L465.7 169.99L466.34 169.99L466.99 169.98L467.64 169.97L468.28 169.96L468.93 169.94L469.57 169.92L470.22 169.88L470.87 169.83L471.51 169.76L472.16 169.67L472.8 169.55L473.45 169.39L474.1 169.17L474.74 168.89L475.39 168.53L476.03 168.07L476.68 167.48L477.33 166.74L477.97 165.82L478.62 164.69L479.26 163.31L479.91 161.64L480.56 159.64L481.2 157.28L481.85 154.52L482.49 151.32L483.14 147.65L483.78 143.49L484.43 138.83L485.08 133.66L485.72 128.01L486.37 121.89L487.01 115.36L487.66 108.47L488.31 101.32L488.95 93.99L489.6 86.61L490.24 79.3L490.89 72.2L491.54 65.45L492.18 59.2L492.83 53.59L493.47 48.76L494.12 44.81L494.76 41.84L495.41 39.94L496.06 39.15L496.7 39.49L497.35 40.95L497.99 43.5L498.64 47.06L499.29 51.56L499.93 56.87L500.58 62.88L501.22 69.45L501.87 76.42L502.52 83.67L503.16 91.04L503.81 98.4L504.45 105.64L505.1 112.64L505.75 119.32L506.39 125.61L507.04 131.46L507.68 136.82L508.33 141.69L508.98 146.05L509.62 149.91L510.27 153.29L510.91 156.23L511.56 158.75L512.2 160.88L512.85 162.68L513.5 164.17L514.14 165.4L514.79 166.4L515.43 167.21L516.08 167.85L516.73 168.36L517.37 168.76L518.02 169.07L518.66 169.31L519.31 169.49L519.96 169.63L520.6 169.73L521.25 169.81L521.89 169.86L522.54 169.9L523.18 169.93L523.83 169.95L524.48 169.97L525.12 169.98L525.77 169.99L526.41 169.99L527.06 169.99L527.71 170L528.35 170L529 170L529.64 170L530.29 170L530.94 170L531.58 170L532.23 170L532.87 170L533.52 170L534.17 170L534.81 170L535.46 170L536.1 170L536.75 170L537.39 170L538.04 170L538.69 170L539.33 170L539.98 170L540.62 170L541.27 170L541.92 170L542.56 170L543.21 170L543.85 170L544.5 170" stroke="#f2121c" stroke-width="1.3" fill="none" stroke-linejoin="round"/>
<path d="M402.4 170H544.5" stroke="#000" stroke-opacity="0.16" stroke-width="1.2" fill="none"/>
<g font-family='"Liberation Sans", sans-serif'>
<text x="402.2" y="177.5" font-size="7.95" text-anchor="middle" fill="#111" stroke="#111" stroke-width="0.28">1</text>
<text x="425.88" y="177.5" font-size="7.95" text-anchor="middle" fill="#111" stroke="#111" stroke-width="0.28">2</text>
<text x="449.57" y="177.5" font-size="7.95" text-anchor="middle" fill="#111" stroke="#111" stroke-width="0.28">3</text>
<text x="473.25" y="177.5" font-size="7.95" text-anchor="middle" fill="#111" stroke="#111" stroke-width="0.28">4</text>
<text x="496.93" y="177.5" font-size="7.95" text-anchor="middle" fill="#111" stroke="#111" stroke-width="0.28">5</text>
<text x="520.62" y="177.5" font-size="7.95" text-anchor="middle" fill="#111" stroke="#111" stroke-width="0.28">6</text>
<text x="544.3" y="177.5" font-size="7.95" text-anchor="middle" fill="#111" stroke="#111" stroke-width="0.28">7</text>
<text x="401.3" y="173.4" font-size="8.1" text-anchor="end" fill="#111" stroke="#111" stroke-width="0.28">0</text>
<text x="401.3" y="156.18" font-size="8.1" text-anchor="end" fill="#111" stroke="#111" stroke-width="0.28">10</text>
<text x="401.3" y="138.96" font-size="8.1" text-anchor="end" fill="#111" stroke="#111" stroke-width="0.28">20</text>
<text x="401.3" y="121.74" font-size="8.1" text-anchor="end" fill="#111" stroke="#111" stroke-width="0.28">30</text>
<text x="401.3" y="104.52" font-size="8.1" text-anchor="end" fill="#111" stroke="#111" stroke-width="0.28">40</text>
<text x="401.3" y="87.3" font-size="8.1" text-anchor="end" fill="#111" stroke="#111" stroke-width="0.28">50</text>
<text x="401.3" y="70.08" font-size="8.1" text-anchor="end" fill="#111" stroke="#111" stroke-width="0.28">60</text>
<text x="401.3" y="52.86" font-size="8.1" text-anchor="end" fill="#111" stroke="#111" stroke-width="0.28">70</text>
<text x="401.3" y="35.64" font-size="8.1" text-anchor="end" fill="#111" stroke="#111" stroke-width="0.28">80</text>
<text x="473.75" y="188.2" font-size="11.1" text-anchor="middle" fill="#111" stroke="#111" stroke-width="0.28">Y[mm]</text>
<text x="390.4" y="26.7" font-size="11" text-anchor="end" fill="#111" stroke="#111" stroke-width="0.28" transform="rotate(-90 390.4 26.7)">Counts</text>
<text x="408" y="36" font-size="9.7" text-anchor="start" fill="#111" stroke="#111" stroke-width="0.28">0.69 mm FWHM</text>
</g>
</g>
<g>
<rect x="215.4" y="227.2" width="140.2" height="143" fill="#fff" stroke="#3c3c3c" stroke-width="0.9"/>
<path d="M215.4 370.2v-4.6M218.2 370.2v-2.4M221.01 370.2v-2.4M223.81 370.2v-2.4M226.62 370.2v-2.4M229.42 370.2v-4.6M232.22 370.2v-2.4M235.03 370.2v-2.4M237.83 370.2v-2.4M240.64 370.2v-2.4M243.44 370.2v-4.6M246.24 370.2v-2.4M249.05 370.2v-2.4M251.85 370.2v-2.4M254.66 370.2v-2.4M257.46 370.2v-4.6M260.26 370.2v-2.4M263.07 370.2v-2.4M265.87 370.2v-2.4M268.68 370.2v-2.4M271.48 370.2v-4.6M274.28 370.2v-2.4M277.09 370.2v-2.4M279.89 370.2v-2.4M282.7 370.2v-2.4M285.5 370.2v-4.6M288.3 370.2v-2.4M291.11 370.2v-2.4M293.91 370.2v-2.4M296.72 370.2v-2.4M299.52 370.2v-4.6M302.32 370.2v-2.4M305.13 370.2v-2.4M307.93 370.2v-2.4M310.74 370.2v-2.4M313.54 370.2v-4.6M316.34 370.2v-2.4M319.15 370.2v-2.4M321.95 370.2v-2.4M324.76 370.2v-2.4M327.56 370.2v-4.6M330.36 370.2v-2.4M333.17 370.2v-2.4M335.97 370.2v-2.4M338.78 370.2v-2.4M341.58 370.2v-4.6M344.38 370.2v-2.4M347.19 370.2v-2.4M349.99 370.2v-2.4M352.8 370.2v-2.4M355.6 370.2v-4.6M215.4 370.2h4.4M215.4 367.18h2.4M215.4 364.16h2.4M215.4 361.14h2.4M215.4 358.12h2.4M215.4 355.1h4.4M215.4 352.08h2.4M215.4 349.06h2.4M215.4 346.04h2.4M215.4 343.02h2.4M215.4 340h4.4M215.4 336.98h2.4M215.4 333.96h2.4M215.4 330.94h2.4M215.4 327.92h2.4M215.4 324.9h4.4M215.4 321.88h2.4M215.4 318.86h2.4M215.4 315.84h2.4M215.4 312.82h2.4M215.4 309.8h4.4M215.4 306.78h2.4M215.4 303.76h2.4M215.4 300.74h2.4M215.4 297.72h2.4M215.4 294.7h4.4M215.4 291.68h2.4M215.4 288.66h2.4M215.4 285.64h2.4M215.4 282.62h2.4M215.4 279.6h4.4M215.4 276.58h2.4M215.4 273.56h2.4M215.4 270.54h2.4M215.4 267.52h2.4M215.4 264.5h4.4M215.4 261.48h2.4M215.4 258.46h2.4M215.4 255.44h2.4M215.4 252.42h2.4M215.4 249.4h4.4M215.4 246.38h2.4M215.4 243.36h2.4M215.4 240.34h2.4M215.4 237.32h2.4M215.4 234.3h4.4M215.4 231.28h2.4M215.4 228.26h2.4" stroke="#2a2a2a" stroke-width="0.6" fill="none"/>
<path d="M215.4 370.2V370.2H216.8V370.2H218.2V370.2H219.61V370.2H221.01V370.2H222.41V370.2H223.81V370.2H225.21V370.2H226.62V370.2H228.02V370.2H229.42V370.2H230.82V370.2H232.22V370.2H233.63V370.2H235.03V370.2H236.43V370.2H237.83V370.2H239.23V370.2H240.64V370.2H242.04V368.69H243.44V370.2H244.84V364.16H246.24V364.16H247.65V364.16H249.05V362.65H250.45V361.14H251.85V361.14H253.25V356.61H254.66V344.53H256.06V344.53H257.46V324.9H258.86V314.33H260.26V315.84H261.67V288.66H263.07V282.62H264.47V269.03H265.87V255.44H267.27V255.44H268.68V241.85H270.08V261.48H271.48V272.05H272.88V264.5H274.28V294.7H275.69V303.76H277.09V300.74H278.49V335.47H279.89V335.47H281.29V349.06H282.7V353.59H284.1V359.63H285.5V359.63H286.9V362.65H288.3V361.14H289.71V362.65H291.11V370.2H292.51V364.16H293.91V367.18H295.31V370.2H296.72V368.69H298.12V370.2H299.52V370.2H300.92V370.2H302.32V370.2H303.73V370.2H305.13V370.2H306.53V370.2H307.93V370.2H309.33V370.2H310.74V370.2H312.14V370.2H313.54V370.2H314.94V370.2H316.34V370.2H317.75V370.2H319.15V370.2H320.55V370.2H321.95V370.2H323.35V370.2H324.76V370.2H326.16V370.2H327.56V370.2H328.96V370.2H330.36V370.2H331.77V370.2H333.17V370.2H334.57V370.2H335.97V370.2H337.37V368.69H338.78V370.2H340.18V370.2H341.58V370.2H342.98V370.2H344.38V367.18H345.79V370.2H347.19V370.2H348.59V370.2H349.99V370.2H351.39V370.2H352.8V370.2H354.2V370.2H355.6V370.2" stroke="#3038c0" stroke-width="1.05" fill="none" stroke-linejoin="miter"/>
<path d="M215.4 370.2L216.04 370.2L216.67 370.2L217.31 370.2L217.95 370.2L218.59 370.2L219.22 370.2L219.86 370.2L220.5 370.2L221.14 370.2L221.77 370.2L222.41 370.2L223.05 370.2L223.68 370.2L224.32 370.2L224.96 370.2L225.6 370.2L226.23 370.2L226.87 370.2L227.51 370.2L228.15 370.2L228.78 370.2L229.42 370.2L230.06 370.2L230.69 370.2L231.33 370.2L231.97 370.2L232.61 370.2L233.24 370.2L233.88 370.2L234.52 370.2L235.16 370.2L235.79 370.2L236.43 370.19L237.07 370.19L237.7 370.19L238.34 370.18L238.98 370.17L239.62 370.16L240.25 370.14L240.89 370.12L241.53 370.09L242.17 370.05L242.8 370L243.44 369.92L244.08 369.83L244.71 369.7L245.35 369.54L245.99 369.34L246.63 369.08L247.26 368.75L247.9 368.34L248.54 367.83L249.18 367.2L249.81 366.43L250.45 365.5L251.09 364.39L251.72 363.07L252.36 361.51L253 359.68L253.64 357.57L254.27 355.15L254.91 352.4L255.55 349.3L256.19 345.85L256.82 342.03L257.46 337.86L258.1 333.34L258.73 328.51L259.37 323.39L260.01 318.04L260.65 312.5L261.28 306.85L261.92 301.16L262.56 295.52L263.2 290.02L263.83 284.75L264.47 279.81L265.11 275.3L265.74 271.3L266.38 267.89L267.02 265.16L267.66 263.15L268.29 261.92L268.93 261.48L269.57 261.85L270.21 263.02L270.84 264.97L271.48 267.65L272.12 271L272.75 274.96L273.39 279.43L274.03 284.34L274.67 289.59L275.3 295.07L275.94 300.7L276.58 306.39L277.22 312.05L277.85 317.6L278.49 322.97L279.13 328.11L279.76 332.97L280.4 337.51L281.04 341.71L281.68 345.56L282.31 349.04L282.95 352.17L283.59 354.95L284.23 357.39L284.86 359.53L285.5 361.37L286.14 362.95L286.77 364.29L287.41 365.42L288.05 366.36L288.69 367.14L289.32 367.78L289.96 368.3L290.6 368.72L291.24 369.05L291.87 369.32L292.51 369.53L293.15 369.69L293.78 369.82L294.42 369.92L295.06 369.99L295.7 370.05L296.33 370.09L296.97 370.12L297.61 370.14L298.25 370.16L298.88 370.17L299.52 370.18L300.16 370.19L300.79 370.19L301.43 370.19L302.07 370.2L302.71 370.2L303.34 370.2L303.98 370.2L304.62 370.2L305.26 370.2L305.89 370.2L306.53 370.2L307.17 370.2L307.8 370.2L308.44 370.2L309.08 370.2L309.72 370.2L310.35 370.2L310.99 370.2L311.63 370.2L312.27 370.2L312.9 370.2L313.54 370.2L314.18 370.2L314.81 370.2L315.45 370.2L316.09 370.2L316.73 370.2L317.36 370.2L318 370.2L318.64 370.2L319.28 370.2L319.91 370.2L320.55 370.2L321.19 370.2L321.82 370.2L322.46 370.2L323.1 370.2L323.74 370.2L324.37 370.2L325.01 370.2L325.65 370.2L326.29 370.2L326.92 370.2L327.56 370.2L328.2 370.2L328.83 370.2L329.47 370.2L330.11 370.2L330.75 370.2L331.38 370.2L332.02 370.2L332.66 370.2L333.3 370.2L333.93 370.2L334.57 370.2L335.21 370.2L335.84 370.2L336.48 370.2L337.12 370.2L337.76 370.2L338.39 370.2L339.03 370.2L339.67 370.2L340.31 370.2L340.94 370.2L341.58 370.2L342.22 370.2L342.85 370.2L343.49 370.2L344.13 370.2L344.77 370.2L345.4 370.2L346.04 370.2L346.68 370.2L347.32 370.2L347.95 370.2L348.59 370.2L349.23 370.2L349.86 370.2L350.5 370.2L351.14 370.2L351.78 370.2L352.41 370.2L353.05 370.2L353.69 370.2L354.33 370.2L354.96 370.2L355.6 370.2" stroke="#f2121c" stroke-width="1.3" fill="none" stroke-linejoin="round"/>
<path d="M215.4 370.2H355.6" stroke="#000" stroke-opacity="0.16" stroke-width="1.2" fill="none"/>
<g font-family='"Liberation Sans", sans-serif'>
<text x="215.2" y="377.7" font-size="7.85" text-anchor="middle" fill="#111" stroke="#111" stroke-width="0.28">2</text>
<text x="229.22" y="377.7" font-size="7.85" text-anchor="middle" fill="#111" stroke="#111" stroke-width="0.28">2.5</text>
<text x="243.24" y="377.7" font-size="7.85" text-anchor="middle" fill="#111" stroke="#111" stroke-width="0.28">3</text>
<text x="257.26" y="377.7" font-size="7.85" text-anchor="middle" fill="#111" stroke="#111" stroke-width="0.28">3.5</text>
<text x="271.28" y="377.7" font-size="7.85" text-anchor="middle" fill="#111" stroke="#111" stroke-width="0.28">4</text>
<text x="285.3" y="377.7" font-size="7.85" text-anchor="middle" fill="#111" stroke="#111" stroke-width="0.28">4.5</text>
<text x="299.32" y="377.7" font-size="7.85" text-anchor="middle" fill="#111" stroke="#111" stroke-width="0.28">5</text>
<text x="313.34" y="377.7" font-size="7.85" text-anchor="middle" fill="#111" stroke="#111" stroke-width="0.28">5.5</text>
<text x="327.36" y="377.7" font-size="7.85" text-anchor="middle" fill="#111" stroke="#111" stroke-width="0.28">6</text>
<text x="341.38" y="377.7" font-size="7.85" text-anchor="middle" fill="#111" stroke="#111" stroke-width="0.28">6.5</text>
<text x="355.4" y="377.7" font-size="7.85" text-anchor="middle" fill="#111" stroke="#111" stroke-width="0.28">7</text>
<text x="213.3" y="373.6" font-size="8" text-anchor="end" fill="#111" stroke="#111" stroke-width="0.28">0</text>
<text x="213.3" y="358.5" font-size="8" text-anchor="end" fill="#111" stroke="#111" stroke-width="0.28">10</text>
<text x="213.3" y="343.4" font-size="8" text-anchor="end" fill="#111" stroke="#111" stroke-width="0.28">20</text>
<text x="213.3" y="328.3" font-size="8" text-anchor="end" fill="#111" stroke="#111" stroke-width="0.28">30</text>
<text x="213.3" y="313.2" font-size="8" text-anchor="end" fill="#111" stroke="#111" stroke-width="0.28">40</text>
<text x="213.3" y="298.1" font-size="8" text-anchor="end" fill="#111" stroke="#111" stroke-width="0.28">50</text>
<text x="213.3" y="283" font-size="8" text-anchor="end" fill="#111" stroke="#111" stroke-width="0.28">60</text>
<text x="213.3" y="267.9" font-size="8" text-anchor="end" fill="#111" stroke="#111" stroke-width="0.28">70</text>
<text x="213.3" y="252.8" font-size="8" text-anchor="end" fill="#111" stroke="#111" stroke-width="0.28">80</text>
<text x="213.3" y="237.7" font-size="8" text-anchor="end" fill="#111" stroke="#111" stroke-width="0.28">90</text>
<text x="285.8" y="388.4" font-size="10.9" text-anchor="middle" fill="#111" stroke="#111" stroke-width="0.28">X[mm]</text>
<text x="200.1" y="227.7" font-size="10.8" text-anchor="end" fill="#111" stroke="#111" stroke-width="0.28" transform="rotate(-90 200.1 227.7)">Counts</text>
<text x="221.6" y="238.1" font-size="9.4" text-anchor="start" fill="#111" stroke="#111" stroke-width="0.28">0.62 mm FWHM</text>
</g>
</g>
<g>
<rect x="399.8" y="228.1" width="139.5" height="141.7" fill="#fff" stroke="#3c3c3c" stroke-width="0.9"/>
<path d="M399.8 369.8v-4.6M404.45 369.8v-2.4M409.1 369.8v-2.4M413.75 369.8v-2.4M418.4 369.8v-2.4M423.05 369.8v-4.6M427.7 369.8v-2.4M432.35 369.8v-2.4M437 369.8v-2.4M441.65 369.8v-2.4M446.3 369.8v-4.6M450.95 369.8v-2.4M455.6 369.8v-2.4M460.25 369.8v-2.4M464.9 369.8v-2.4M469.55 369.8v-4.6M474.2 369.8v-2.4M478.85 369.8v-2.4M483.5 369.8v-2.4M488.15 369.8v-2.4M492.8 369.8v-4.6M497.45 369.8v-2.4M502.1 369.8v-2.4M506.75 369.8v-2.4M511.4 369.8v-2.4M516.05 369.8v-4.6M520.7 369.8v-2.4M525.35 369.8v-2.4M530 369.8v-2.4M534.65 369.8v-2.4M539.3 369.8v-4.6M399.8 369.8h4.4M399.8 363.68h2.4M399.8 357.55h2.4M399.8 351.43h2.4M399.8 345.3h4.4M399.8 339.18h2.4M399.8 333.05h2.4M399.8 326.93h2.4M399.8 320.8h4.4M399.8 314.68h2.4M399.8 308.55h2.4M399.8 302.43h2.4M399.8 296.3h4.4M399.8 290.18h2.4M399.8 284.05h2.4M399.8 277.93h2.4M399.8 271.8h4.4M399.8 265.68h2.4M399.8 259.55h2.4M399.8 253.43h2.4M399.8 247.3h4.4M399.8 241.18h2.4M399.8 235.05h2.4M399.8 228.93h2.4" stroke="#2a2a2a" stroke-width="0.6" fill="none"/>
<path d="M399.8 369.8V369.8H401.19V369.8H402.59V369.8H403.99V369.8H405.38V369.8H406.78V369.8H408.17V369.8H409.56V369.8H410.96V369.8H412.36V369.8H413.75V369.8H415.14V369.8H416.54V369.8H417.94V369.8H419.33V369.8H420.73V369.8H422.12V369.8H423.51V369.8H424.91V369.8H426.31V369.8H427.7V369.8H429.09V369.8H430.49V369.8H431.88V369.8H433.28V369.8H434.68V369.8H436.07V369.8H437.46V369.8H438.86V369.8H440.25V369.8H441.65V369.8H443.04V366.12H444.44V367.35H445.83V369.8H447.23V369.8H448.62V367.35H450.02V366.12H451.41V364.9H452.81V364.9H454.2V366.12H455.6V360H457V364.9H458.39V352.65H459.78V347.75H461.18V337.95H462.57V324.48H463.97V319.57H465.37V303.65H466.76V284.05H468.15V262H469.55V236.28H470.94V262H472.34V246.07H473.73V274.25H475.13V293.85H476.52V288.95H477.92V302.43H479.31V317.12H480.71V330.6H482.1V339.18H483.5V352.65H484.89V355.1H486.29V357.55H487.68V362.45H489.08V367.35H490.47V367.35H491.87V367.35H493.26V368.57H494.66V368.57H496.05V367.35H497.45V367.35H498.84V369.8H500.24V369.8H501.63V369.8H503.03V369.8H504.42V369.8H505.82V369.8H507.21V369.8H508.61V369.8H510V369.8H511.4V369.8H512.79V369.8H514.19V369.8H515.58V368.57H516.98V369.8H518.38V369.8H519.77V368.57H521.16V369.8H522.56V369.8H523.95V369.8H525.35V369.8H526.74V369.8H528.14V369.8H529.53V369.8H530.93V369.8H532.32V369.8H533.72V369.8H535.11V369.8H536.51V369.8H537.9V369.8H539.3V369.8" stroke="#3038c0" stroke-width="1.05" fill="none" stroke-linejoin="miter"/>
<path d="M399.8 369.8L400.43 369.8L401.07 369.8L401.7 369.8L402.34 369.8L402.97 369.8L403.6 369.8L404.24 369.8L404.87 369.8L405.51 369.8L406.14 369.8L406.78 369.8L407.41 369.8L408.04 369.8L408.68 369.8L409.31 369.8L409.95 369.8L410.58 369.8L411.21 369.8L411.85 369.8L412.48 369.8L413.12 369.8L413.75 369.8L414.38 369.8L415.02 369.8L415.65 369.8L416.29 369.8L416.92 369.8L417.55 369.8L418.19 369.8L418.82 369.8L419.46 369.8L420.09 369.8L420.73 369.8L421.36 369.8L421.99 369.8L422.63 369.8L423.26 369.8L423.9 369.8L424.53 369.8L425.16 369.8L425.8 369.8L426.43 369.8L427.07 369.8L427.7 369.8L428.33 369.8L428.97 369.8L429.6 369.8L430.24 369.8L430.87 369.8L431.5 369.8L432.14 369.8L432.77 369.8L433.41 369.8L434.04 369.8L434.68 369.8L435.31 369.8L435.94 369.8L436.58 369.8L437.21 369.8L437.85 369.8L438.48 369.8L439.11 369.8L439.75 369.8L440.38 369.8L441.02 369.8L441.65 369.8L442.28 369.8L442.92 369.8L443.55 369.8L444.19 369.8L444.82 369.79L445.45 369.79L446.09 369.78L446.72 369.77L447.36 369.76L447.99 369.74L448.62 369.72L449.26 369.68L449.89 369.62L450.53 369.55L451.16 369.44L451.8 369.29L452.43 369.1L453.06 368.83L453.7 368.49L454.33 368.03L454.97 367.45L455.6 366.7L456.23 365.76L456.87 364.59L457.5 363.15L458.14 361.39L458.77 359.28L459.4 356.78L460.04 353.85L460.67 350.47L461.31 346.6L461.94 342.26L462.57 337.43L463.21 332.15L463.84 326.47L464.48 320.44L465.11 314.16L465.75 307.72L466.38 301.26L467.01 294.9L467.65 288.8L468.28 283.11L468.92 277.98L469.55 273.55L470.18 269.95L470.82 267.29L471.45 265.64L472.09 265.06L472.72 265.57L473.35 267.15L473.99 269.74L474.62 273.28L475.26 277.66L475.89 282.75L476.52 288.41L477.16 294.48L477.79 300.83L478.43 307.29L479.06 313.73L479.7 320.03L480.33 326.08L480.96 331.79L481.6 337.09L482.23 341.95L482.87 346.33L483.5 350.23L484.13 353.64L484.77 356.6L485.4 359.13L486.04 361.26L486.67 363.04L487.3 364.5L487.94 365.69L488.57 366.65L489.21 367.41L489.84 368L490.47 368.46L491.11 368.81L491.74 369.08L492.38 369.28L493.01 369.43L493.65 369.54L494.28 369.62L494.91 369.67L495.55 369.71L496.18 369.74L496.82 369.76L497.45 369.77L498.08 369.78L498.72 369.79L499.35 369.79L499.99 369.8L500.62 369.8L501.25 369.8L501.89 369.8L502.52 369.8L503.16 369.8L503.79 369.8L504.42 369.8L505.06 369.8L505.69 369.8L506.33 369.8L506.96 369.8L507.6 369.8L508.23 369.8L508.86 369.8L509.5 369.8L510.13 369.8L510.77 369.8L511.4 369.8L512.03 369.8L512.67 369.8L513.3 369.8L513.94 369.8L514.57 369.8L515.2 369.8L515.84 369.8L516.47 369.8L517.11 369.8L517.74 369.8L518.38 369.8L519.01 369.8L519.64 369.8L520.28 369.8L520.91 369.8L521.55 369.8L522.18 369.8L522.81 369.8L523.45 369.8L524.08 369.8L524.72 369.8L525.35 369.8L525.98 369.8L526.62 369.8L527.25 369.8L527.89 369.8L528.52 369.8L529.15 369.8L529.79 369.8L530.42 369.8L531.06 369.8L531.69 369.8L532.32 369.8L532.96 369.8L533.59 369.8L534.23 369.8L534.86 369.8L535.5 369.8L536.13 369.8L536.76 369.8L537.4 369.8L538.03 369.8L538.67 369.8L539.3 369.8" stroke="#f2121c" stroke-width="1.3" fill="none" stroke-linejoin="round"/>
<path d="M399.8 369.8H539.3" stroke="#000" stroke-opacity="0.16" stroke-width="1.2" fill="none"/>
<g font-family='"Liberation Sans", sans-serif'>
<text x="399.6" y="377.3" font-size="7.55" text-anchor="middle" fill="#111" stroke="#111" stroke-width="0.28">1</text>
<text x="422.85" y="377.3" font-size="7.55" text-anchor="middle" fill="#111" stroke="#111" stroke-width="0.28">2</text>
<text x="446.1" y="377.3" font-size="7.55" text-anchor="middle" fill="#111" stroke="#111" stroke-width="0.28">3</text>
<text x="469.35" y="377.3" font-size="7.55" text-anchor="middle" fill="#111" stroke="#111" stroke-width="0.28">4</text>
<text x="492.6" y="377.3" font-size="7.55" text-anchor="middle" fill="#111" stroke="#111" stroke-width="0.28">5</text>
<text x="515.85" y="377.3" font-size="7.55" text-anchor="middle" fill="#111" stroke="#111" stroke-width="0.28">6</text>
<text x="539.1" y="377.3" font-size="7.55" text-anchor="middle" fill="#111" stroke="#111" stroke-width="0.28">7</text>
<text x="397.8" y="373.2" font-size="7.7" text-anchor="end" fill="#111" stroke="#111" stroke-width="0.28">0</text>
<text x="397.8" y="348.7" font-size="7.7" text-anchor="end" fill="#111" stroke="#111" stroke-width="0.28">20</text>
<text x="397.8" y="324.2" font-size="7.7" text-anchor="end" fill="#111" stroke="#111" stroke-width="0.28">40</text>
<text x="397.8" y="299.7" font-size="7.7" text-anchor="end" fill="#111" stroke="#111" stroke-width="0.28">60</text>
<text x="397.8" y="275.2" font-size="7.7" text-anchor="end" fill="#111" stroke="#111" stroke-width="0.28">80</text>
<text x="397.8" y="250.7" font-size="7.7" text-anchor="end" fill="#111" stroke="#111" stroke-width="0.28">100</text>
<text x="469.85" y="388" font-size="10.9" text-anchor="middle" fill="#111" stroke="#111" stroke-width="0.28">Y[mm]</text>
<text x="384.8" y="228.6" font-size="10.8" text-anchor="end" fill="#111" stroke="#111" stroke-width="0.28" transform="rotate(-90 384.8 228.6)">Counts</text>
<text x="403.4" y="237.3" font-size="9.4" text-anchor="start" fill="#111" stroke="#111" stroke-width="0.28">0.63 mm FWHM</text>
</g>
</g>
<g>
<defs>
<linearGradient id="zg" gradientUnits="userSpaceOnUse" x1="0" y1="351.6" x2="0" y2="259.6">
<stop offset="0.0000" stop-color="#1554cf"/>
<stop offset="0.0880" stop-color="#0f5cdd"/>
<stop offset="0.0891" stop-color="#116eda"/>
<stop offset="0.1804" stop-color="#1275d8"/>
<stop offset="0.1815" stop-color="#1285d5"/>
<stop offset="0.2728" stop-color="#0e8fd1"/>
<stop offset="0.2739" stop-color="#0a99ce"/>
<stop offset="0.3435" stop-color="#0fa8c2"/>
<stop offset="0.4087" stop-color="#21b1b1"/>
<stop offset="0.4739" stop-color="#37b8a0"/>
<stop offset="0.5391" stop-color="#5dbb8c"/>
<stop offset="0.6043" stop-color="#83bf79"/>
<stop offset="0.6696" stop-color="#a3bd6c"/>
<stop offset="0.7348" stop-color="#c2bc5f"/>
<stop offset="0.8000" stop-color="#dbbe51"/>
<stop offset="0.8652" stop-color="#edc340"/>
<stop offset="0.9304" stop-color="#feca30"/>
<stop offset="0.9957" stop-color="#fcdf22"/>
<stop offset="1.0000" stop-color="#fcde22"/>
</linearGradient>
<linearGradient id="zg2" gradientUnits="userSpaceOnUse" x1="0" y1="351.6" x2="0" y2="283.6">
<stop offset="0.0000" stop-color="#1554cf"/>
<stop offset="0.1191" stop-color="#0f5cdd"/>
<stop offset="0.1206" stop-color="#116eda"/>
<stop offset="0.2441" stop-color="#1275d8"/>
<stop offset="0.2456" stop-color="#1285d5"/>
<stop offset="0.3691" stop-color="#0e8fd1"/>
<stop offset="0.3706" stop-color="#0a99ce"/>
<stop offset="0.4941" stop-color="#09a6c7"/>
<stop offset="0.6118" stop-color="#18acb9"/>
<stop offset="0.7294" stop-color="#28b4aa"/>
<stop offset="0.8324" stop-color="#40b99b"/>
<stop offset="0.9206" stop-color="#63bc89"/>
<stop offset="1.0000" stop-color="#87bf77"/>
</linearGradient>
<filter id="b3" x="-10%" y="-5%" width="120%" height="110%"><feGaussianBlur stdDeviation="0.5"/></filter>
</defs>
<path d="M31 330.46L113.8 313.56L171.4 337.56M31 315.12L113.8 298.22L171.4 322.22M31 299.78L113.8 282.88L171.4 306.88M31 284.44L113.8 267.54L171.4 291.54M31 269.1L113.8 252.2L171.4 276.2M31 253.76L113.8 236.86L171.4 260.86" stroke="#b4b4b4" stroke-width="0.5" fill="none" stroke-dasharray="1.6 0.8"/>
<path d="M31 245.2L113.8 228.3L171.4 252.3M113.8 228.3V329.5" stroke="#444" stroke-width="0.8" fill="none"/>
<path d="M31 346.4L113.8 329.5L171.4 353.5L89.8 369.8Z" fill="#293da8"/>
<g filter="url(#b3)">
<path d="M93 346 L95 325 C96 315 96.2 311 96.4 308 C97.5 300 99 286 100.5 283.6 C102 285.5 104.6 294 108.2 302.5 C110 308 111.2 312 112.2 317.8 C113.2 324 113.8 330 114.6 334.5 L117 340.9 L112 344.6 L100.5 350.3 Z" fill="url(#zg2)"/>
<path d="M78.1 351.6 L78.9 348 C80 344 80.8 339.2 81.9 335.5 C82.7 330 83.5 324 84.2 319 C85.5 308 86.8 296 87.7 285.5 C88.8 275 89.8 262 90.8 259.6 C91.8 262 93 275 94.3 285.5 C95 296 95.6 308 96.2 316 C97 326 98.5 338 100.6 350.3 Z" fill="url(#zg)"/>
</g>
<path d="M31 245.2L89.8 268.6L171.4 252.3M89.8 268.6V369.8M31 245.2V346.4M171.4 252.3V353.5M31 346.4L89.8 369.8L171.4 353.5" stroke="#2a2a2a" stroke-width="0.8" fill="none"/>
<path d="M31 345.8h3.4M31 341.96h1.7M31 338.13h1.7M31 334.29h1.7M31 330.46h3.4M31 326.62h1.7M31 322.79h1.7M31 318.95h1.7M31 315.12h3.4M31 311.28h1.7M31 307.45h1.7M31 303.61h1.7M31 299.78h3.4M31 295.94h1.7M31 292.11h1.7M31 288.27h1.7M31 284.44h3.4M31 280.6h1.7M31 276.77h1.7M31 272.93h1.7M31 269.1h3.4M31 265.26h1.7M31 261.43h1.7M31 257.59h1.7M31 253.76h3.4M31 249.92h1.7M31 246.09h1.7" stroke="#222" stroke-width="0.6" fill="none"/>
<text x="28.8" y="348.5" font-size="7.8" text-anchor="end" fill="#111" stroke="#111" stroke-width="0.28">0</text>
<text x="28.8" y="333.16" font-size="7.8" text-anchor="end" fill="#111" stroke="#111" stroke-width="0.28">2</text>
<text x="28.8" y="317.82" font-size="7.8" text-anchor="end" fill="#111" stroke="#111" stroke-width="0.28">4</text>
<text x="28.8" y="302.48" font-size="7.8" text-anchor="end" fill="#111" stroke="#111" stroke-width="0.28">6</text>
<text x="28.8" y="287.14" font-size="7.8" text-anchor="end" fill="#111" stroke="#111" stroke-width="0.28">8</text>
<text x="28.8" y="271.8" font-size="7.8" text-anchor="end" fill="#111" stroke="#111" stroke-width="0.28">10</text>
<text x="28.8" y="256.46" font-size="7.8" text-anchor="end" fill="#111" stroke="#111" stroke-width="0.28">12</text>
<text x="15.2" y="294.6" font-size="10.8" text-anchor="middle" fill="#111" stroke="#111" stroke-width="0.28" transform="rotate(-90 15.2 294.6)">Counts</text>
<text x="27.1" y="355.5" font-size="7.8" text-anchor="middle" fill="#111" stroke="#111" stroke-width="0.28" transform="rotate(14 27.1 355.5)">7</text>
<text x="36.9" y="359.4" font-size="7.8" text-anchor="middle" fill="#111" stroke="#111" stroke-width="0.28" transform="rotate(14 36.9 359.4)">6</text>
<text x="46.7" y="363.3" font-size="7.8" text-anchor="middle" fill="#111" stroke="#111" stroke-width="0.28" transform="rotate(14 46.7 363.3)">5</text>
<text x="56.5" y="367.2" font-size="7.8" text-anchor="middle" fill="#111" stroke="#111" stroke-width="0.28" transform="rotate(14 56.5 367.2)">4</text>
<text x="66.3" y="371.1" font-size="7.8" text-anchor="middle" fill="#111" stroke="#111" stroke-width="0.28" transform="rotate(14 66.3 371.1)">3</text>
<text x="76.1" y="375" font-size="7.8" text-anchor="middle" fill="#111" stroke="#111" stroke-width="0.28" transform="rotate(14 76.1 375)">2</text>
<text x="87.4" y="378.3" font-size="7.8" text-anchor="middle" fill="#111" stroke="#111" stroke-width="0.28" transform="rotate(14 87.4 378.3)">1</text>
<path d="M31 346.4l-1.12 3.04M32.96 347.18l-0.56 1.52M34.92 347.96l-0.56 1.52M36.88 348.74l-0.56 1.52M38.84 349.52l-0.56 1.52M40.8 350.3l-1.12 3.04M42.76 351.08l-0.56 1.52M44.72 351.86l-0.56 1.52M46.68 352.64l-0.56 1.52M48.64 353.42l-0.56 1.52M50.6 354.2l-1.12 3.04M52.56 354.98l-0.56 1.52M54.52 355.76l-0.56 1.52M56.48 356.54l-0.56 1.52M58.44 357.32l-0.56 1.52M60.4 358.1l-1.12 3.04M62.36 358.88l-0.56 1.52M64.32 359.66l-0.56 1.52M66.28 360.44l-0.56 1.52M68.24 361.22l-0.56 1.52M70.2 362l-1.12 3.04M72.16 362.78l-0.56 1.52M74.12 363.56l-0.56 1.52M76.08 364.34l-0.56 1.52M78.04 365.12l-0.56 1.52M80 365.9l-1.12 3.04M81.96 366.68l-0.56 1.52M83.92 367.46l-0.56 1.52M85.88 368.24l-0.56 1.52M87.84 369.02l-0.56 1.52M89.8 369.8l-1.12 3.04M89.8 369.8l1.12 3.04M91.43 369.47l0.56 1.52M93.06 369.15l0.56 1.52M94.7 368.82l0.56 1.52M96.33 368.5l0.56 1.52M97.96 368.17l1.12 3.04M99.59 367.84l0.56 1.52M101.22 367.52l0.56 1.52M102.86 367.19l0.56 1.52M104.49 366.87l0.56 1.52M106.12 366.54l1.12 3.04M107.75 366.21l0.56 1.52M109.38 365.89l0.56 1.52M111.02 365.56l0.56 1.52M112.65 365.24l0.56 1.52M114.28 364.91l1.12 3.04M115.91 364.58l0.56 1.52M117.54 364.26l0.56 1.52M119.18 363.93l0.56 1.52M120.81 363.61l0.56 1.52M122.44 363.28l1.12 3.04M124.07 362.95l0.56 1.52M125.7 362.63l0.56 1.52M127.34 362.3l0.56 1.52M128.97 361.98l0.56 1.52M130.6 361.65l1.12 3.04M132.23 361.32l0.56 1.52M133.86 361l0.56 1.52M135.5 360.67l0.56 1.52M137.13 360.35l0.56 1.52M138.76 360.02l1.12 3.04M140.39 359.69l0.56 1.52M142.02 359.37l0.56 1.52M143.66 359.04l0.56 1.52M145.29 358.72l0.56 1.52M146.92 358.39l1.12 3.04M148.55 358.06l0.56 1.52M150.18 357.74l0.56 1.52M151.82 357.41l0.56 1.52M153.45 357.09l0.56 1.52M155.08 356.76l1.12 3.04M156.71 356.43l0.56 1.52M158.34 356.11l0.56 1.52M159.98 355.78l0.56 1.52M161.61 355.46l0.56 1.52M163.24 355.13l1.12 3.04M164.87 354.8l0.56 1.52M166.5 354.48l0.56 1.52M168.14 354.15l0.56 1.52M169.77 353.83l0.56 1.52M171.4 353.5l1.12 3.04" stroke="#222" stroke-width="0.6" fill="none"/>
<text x="91.1" y="379.3" font-size="7.8" text-anchor="middle" fill="#111" stroke="#111" stroke-width="0.28" transform="rotate(-11 91.1 379.3)">2</text>
<text x="98.86" y="377.53" font-size="7.8" text-anchor="middle" fill="#111" stroke="#111" stroke-width="0.28" transform="rotate(-11 98.86 377.53)">2.5</text>
<text x="107.02" y="375.76" font-size="7.8" text-anchor="middle" fill="#111" stroke="#111" stroke-width="0.28" transform="rotate(-11 107.02 375.76)">3</text>
<text x="115.18" y="373.99" font-size="7.8" text-anchor="middle" fill="#111" stroke="#111" stroke-width="0.28" transform="rotate(-11 115.18 373.99)">3.5</text>
<text x="123.34" y="372.22" font-size="7.8" text-anchor="middle" fill="#111" stroke="#111" stroke-width="0.28" transform="rotate(-11 123.34 372.22)">4</text>
<text x="131.5" y="370.45" font-size="7.8" text-anchor="middle" fill="#111" stroke="#111" stroke-width="0.28" transform="rotate(-11 131.5 370.45)">4.5</text>
<text x="139.66" y="368.68" font-size="7.8" text-anchor="middle" fill="#111" stroke="#111" stroke-width="0.28" transform="rotate(-11 139.66 368.68)">5</text>
<text x="147.82" y="366.91" font-size="7.8" text-anchor="middle" fill="#111" stroke="#111" stroke-width="0.28" transform="rotate(-11 147.82 366.91)">5.5</text>
<text x="155.98" y="365.14" font-size="7.8" text-anchor="middle" fill="#111" stroke="#111" stroke-width="0.28" transform="rotate(-11 155.98 365.14)">6</text>
<text x="164.14" y="363.37" font-size="7.8" text-anchor="middle" fill="#111" stroke="#111" stroke-width="0.28" transform="rotate(-11 164.14 363.37)">6.5</text>
<text x="172.3" y="361.6" font-size="7.8" text-anchor="middle" fill="#111" stroke="#111" stroke-width="0.28" transform="rotate(-11 172.3 361.6)">7</text>
<text x="52.6" y="376.6" font-size="11.4" text-anchor="middle" fill="#111" stroke="#111" stroke-width="0.28" transform="rotate(26 52.6 376.6)">Y [mm]</text>
<text x="133.8" y="380.2" font-size="10.8" text-anchor="middle" fill="#111" stroke="#111" stroke-width="0.28" transform="rotate(-11 133.8 380.2)">X [mm]</text>
</g>
</svg>
</body></html>
